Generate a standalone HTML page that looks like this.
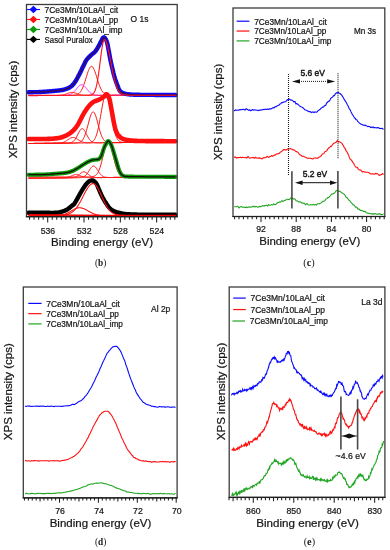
<!DOCTYPE html>
<html><head><meta charset="utf-8"><style>
html,body{margin:0;padding:0;background:#fff;}
svg{display:block;}
text{font-family:"Liberation Sans",Arial,sans-serif;fill:#161616;stroke:#161616;stroke-width:0.22px;}
</style></head><body>
<svg width="390" height="550" viewBox="0 0 390 550">
<rect width="390" height="550" fill="#fff"/>
<g>
<path d="M28.5 95.6 29.0 95.6 29.5 95.6 30.0 95.6 30.5 95.6 31.0 95.6 31.5 95.6 32.0 95.6 32.5 95.6 33.0 95.6 33.5 95.6 34.0 95.6 34.5 95.6 35.0 95.6 35.5 95.6 36.0 95.6 36.5 95.6 37.0 95.6 37.5 95.6 38.0 95.6 38.5 95.5 39.0 95.5 39.5 95.5 40.0 95.5 40.5 95.5 41.0 95.5 41.5 95.5 42.0 95.5 42.5 95.5 43.0 95.5 43.5 95.5 44.0 95.5 44.5 95.5 45.0 95.5 45.5 95.5 46.0 95.5 46.5 95.5 47.0 95.5 47.5 95.5 48.0 95.5 48.5 95.5 49.0 95.5 49.5 95.5 50.0 95.5 50.5 95.5 51.0 95.5 51.5 95.5 52.0 95.5 52.5 95.5 53.0 95.5 53.5 95.5 54.0 95.5 54.5 95.5 55.0 95.5 55.5 95.5 56.0 95.5 56.5 95.5 57.0 95.5 57.5 95.5 58.0 95.5 58.5 95.5 59.0 95.5 59.5 95.5 60.0 95.5 60.5 95.5 61.0 95.5 61.5 95.5 62.0 95.5 62.5 95.5 63.0 95.5 63.5 95.4 64.0 95.4 64.5 95.4 65.0 95.4 65.5 95.4 66.0 95.4 66.5 95.4 67.0 95.4 67.5 95.4 68.0 95.4 68.5 95.4 69.0 95.4 69.5 95.4 70.0 95.4 70.5 95.4 71.0 95.4 71.5 95.4 72.0 95.4 72.5 95.4 73.0 95.3 73.5 95.3 74.0 95.3 74.5 95.2 75.0 95.1 75.5 95.0 76.0 94.9 76.5 94.8 77.0 94.6 77.5 94.4 78.0 94.1 78.5 93.8 79.0 93.4 79.5 92.9 80.0 92.4 80.5 91.7 81.0 91.0 81.5 90.2 82.0 89.2 82.5 88.1 83.0 87.0 83.5 85.7 84.0 84.3 84.5 82.8 85.0 81.3 85.5 79.7 86.0 78.1 86.5 76.5 87.0 74.9 87.5 73.3 88.0 71.8 88.5 70.5 89.0 69.3 89.5 68.3 90.0 67.4 90.5 66.8 91.0 66.5 91.5 66.3 92.0 66.5 92.5 66.8 93.0 67.4 93.5 68.3 94.0 69.3 94.5 70.5 95.0 71.8 95.5 73.3 96.0 74.8 96.5 76.4 97.0 78.1 97.5 79.7 98.0 81.3 98.5 82.8 99.0 84.3 99.5 85.6 100.0 86.9 100.5 88.1 101.0 89.1 101.5 90.1 102.0 90.9 102.5 91.7 103.0 92.3 103.5 92.8 104.0 93.3 104.5 93.7 105.0 94.0 105.5 94.3 106.0 94.5 106.5 94.7 107.0 94.8 107.5 94.9 108.0 95.0 108.5 95.1 109.0 95.1 109.5 95.2 110.0 95.2 110.5 95.2 111.0 95.2 111.5 95.2 112.0 95.2 112.5 95.2 113.0 95.2 113.5 95.2 114.0 95.2 114.5 95.2 115.0 95.2 115.5 95.2 116.0 95.2 116.5 95.2 117.0 95.2 117.5 95.2 118.0 95.2 118.5 95.2 119.0 95.2 119.5 95.2 120.0 95.2 120.5 95.2 121.0 95.2 121.5 95.2 122.0 95.2 122.5 95.2 123.0 95.2 123.5 95.2 124.0 95.2 124.5 95.2 125.0 95.2 125.5 95.2 126.0 95.2 126.5 95.2 127.0 95.2 127.5 95.2 128.0 95.2 128.5 95.2 129.0 95.2 129.5 95.2 130.0 95.2 130.5 95.2 131.0 95.2 131.5 95.2 132.0 95.2 132.5 95.2 133.0 95.2 133.5 95.2 134.0 95.2 134.5 95.2 135.0 95.2 135.5 95.2 136.0 95.2 136.5 95.2 137.0 95.2 137.5 95.2 138.0 95.2 138.5 95.2 139.0 95.1 139.5 95.1 140.0 95.1 140.5 95.1 141.0 95.1 141.5 95.1 142.0 95.1 142.5 95.1 143.0 95.1 143.5 95.1 144.0 95.1 144.5 95.1 145.0 95.1 145.5 95.1 146.0 95.1 146.5 95.1 147.0 95.1 147.5 95.1 148.0 95.1 148.5 95.1 149.0 95.1 149.5 95.1 150.0 95.1 150.5 95.1 151.0 95.1 151.5 95.1 152.0 95.1 152.5 95.1 153.0 95.1 153.5 95.1 154.0 95.1 154.5 95.1 155.0 95.1 155.5 95.1 156.0 95.1 156.5 95.1 157.0 95.1 157.5 95.1 158.0 95.1 158.5 95.1 159.0 95.1 159.5 95.1 160.0 95.1 160.5 95.1 161.0 95.1 161.5 95.1 162.0 95.1 162.5 95.1 163.0 95.1 163.5 95.0 164.0 95.0 164.5 95.0 165.0 95.0 165.5 95.0 166.0 95.0 166.5 95.0 167.0 95.0 167.5 95.0 168.0 95.0 168.5 95.0 169.0 95.0 169.5 95.0 170.0 95.0 170.5 95.0 171.0 95.0 171.5 95.0 172.0 95.0 172.5 95.0 173.0 95.0 173.5 95.0 174.0 95.0 174.5 95.0 175.0 95.0 175.5 95.0 176.0 95.0" stroke="#ff1010" stroke-width="1.0" fill="none"/><path d="M28.5 95.6 29.0 95.6 29.5 95.6 30.0 95.6 30.5 95.6 31.0 95.6 31.5 95.6 32.0 95.6 32.5 95.6 33.0 95.6 33.5 95.6 34.0 95.6 34.5 95.6 35.0 95.6 35.5 95.6 36.0 95.6 36.5 95.6 37.0 95.6 37.5 95.6 38.0 95.6 38.5 95.5 39.0 95.5 39.5 95.5 40.0 95.5 40.5 95.5 41.0 95.5 41.5 95.5 42.0 95.5 42.5 95.5 43.0 95.5 43.5 95.5 44.0 95.5 44.5 95.5 45.0 95.5 45.5 95.5 46.0 95.5 46.5 95.5 47.0 95.5 47.5 95.5 48.0 95.5 48.5 95.5 49.0 95.5 49.5 95.5 50.0 95.5 50.5 95.5 51.0 95.5 51.5 95.5 52.0 95.5 52.5 95.5 53.0 95.5 53.5 95.5 54.0 95.5 54.5 95.5 55.0 95.5 55.5 95.5 56.0 95.5 56.5 95.5 57.0 95.5 57.5 95.5 58.0 95.5 58.5 95.5 59.0 95.5 59.5 95.5 60.0 95.5 60.5 95.5 61.0 95.5 61.5 95.5 62.0 95.4 62.5 95.4 63.0 95.4 63.5 95.4 64.0 95.4 64.5 95.4 65.0 95.4 65.5 95.4 66.0 95.3 66.5 95.3 67.0 95.2 67.5 95.2 68.0 95.1 68.5 95.0 69.0 94.9 69.5 94.7 70.0 94.5 70.5 94.3 71.0 94.1 71.5 93.8 72.0 93.5 72.5 93.1 73.0 92.7 73.5 92.3 74.0 91.8 74.5 91.2 75.0 90.7 75.5 90.1 76.0 89.5 76.5 88.8 77.0 88.2 77.5 87.6 78.0 87.1 78.5 86.5 79.0 86.0 79.5 85.6 80.0 85.3 80.5 85.0 81.0 84.9 81.5 84.8 82.0 84.8 82.5 84.9 83.0 85.1 83.5 85.5 84.0 85.8 84.5 86.3 85.0 86.8 85.5 87.4 86.0 87.9 86.5 88.6 87.0 89.2 87.5 89.8 88.0 90.4 88.5 91.0 89.0 91.5 89.5 92.0 90.0 92.5 90.5 92.9 91.0 93.3 91.5 93.6 92.0 93.9 92.5 94.2 93.0 94.4 93.5 94.6 94.0 94.7 94.5 94.8 95.0 94.9 95.5 95.0 96.0 95.1 96.5 95.1 97.0 95.2 97.5 95.2 98.0 95.2 98.5 95.3 99.0 95.3 99.5 95.3 100.0 95.3 100.5 95.3 101.0 95.3 101.5 95.3 102.0 95.3 102.5 95.3 103.0 95.3 103.5 95.3 104.0 95.3 104.5 95.3 105.0 95.3 105.5 95.3 106.0 95.3 106.5 95.3 107.0 95.3 107.5 95.3 108.0 95.3 108.5 95.3 109.0 95.3 109.5 95.3 110.0 95.3 110.5 95.3 111.0 95.3 111.5 95.3 112.0 95.3 112.5 95.3 113.0 95.3 113.5 95.2 114.0 95.2 114.5 95.2 115.0 95.2 115.5 95.2 116.0 95.2 116.5 95.2 117.0 95.2 117.5 95.2 118.0 95.2 118.5 95.2 119.0 95.2 119.5 95.2 120.0 95.2 120.5 95.2 121.0 95.2 121.5 95.2 122.0 95.2 122.5 95.2 123.0 95.2 123.5 95.2 124.0 95.2 124.5 95.2 125.0 95.2 125.5 95.2 126.0 95.2 126.5 95.2 127.0 95.2 127.5 95.2 128.0 95.2 128.5 95.2 129.0 95.2 129.5 95.2 130.0 95.2 130.5 95.2 131.0 95.2 131.5 95.2 132.0 95.2 132.5 95.2 133.0 95.2 133.5 95.2 134.0 95.2 134.5 95.2 135.0 95.2 135.5 95.2 136.0 95.2 136.5 95.2 137.0 95.2 137.5 95.2 138.0 95.2 138.5 95.2 139.0 95.1 139.5 95.1 140.0 95.1 140.5 95.1 141.0 95.1 141.5 95.1 142.0 95.1 142.5 95.1 143.0 95.1 143.5 95.1 144.0 95.1 144.5 95.1 145.0 95.1 145.5 95.1 146.0 95.1 146.5 95.1 147.0 95.1 147.5 95.1 148.0 95.1 148.5 95.1 149.0 95.1 149.5 95.1 150.0 95.1 150.5 95.1 151.0 95.1 151.5 95.1 152.0 95.1 152.5 95.1 153.0 95.1 153.5 95.1 154.0 95.1 154.5 95.1 155.0 95.1 155.5 95.1 156.0 95.1 156.5 95.1 157.0 95.1 157.5 95.1 158.0 95.1 158.5 95.1 159.0 95.1 159.5 95.1 160.0 95.1 160.5 95.1 161.0 95.1 161.5 95.1 162.0 95.1 162.5 95.1 163.0 95.1 163.5 95.0 164.0 95.0 164.5 95.0 165.0 95.0 165.5 95.0 166.0 95.0 166.5 95.0 167.0 95.0 167.5 95.0 168.0 95.0 168.5 95.0 169.0 95.0 169.5 95.0 170.0 95.0 170.5 95.0 171.0 95.0 171.5 95.0 172.0 95.0 172.5 95.0 173.0 95.0 173.5 95.0 174.0 95.0 174.5 95.0 175.0 95.0 175.5 95.0 176.0 95.0" stroke="#ff20ff" stroke-width="1.0" fill="none"/><path d="M28.5 95.6 29.0 95.6 29.5 95.6 30.0 95.6 30.5 95.6 31.0 95.6 31.5 95.6 32.0 95.6 32.5 95.6 33.0 95.6 33.5 95.6 34.0 95.6 34.5 95.6 35.0 95.6 35.5 95.6 36.0 95.6 36.5 95.6 37.0 95.6 37.5 95.6 38.0 95.6 38.5 95.5 39.0 95.5 39.5 95.5 40.0 95.5 40.5 95.5 41.0 95.5 41.5 95.5 42.0 95.5 42.5 95.5 43.0 95.5 43.5 95.5 44.0 95.5 44.5 95.5 45.0 95.5 45.5 95.5 46.0 95.5 46.5 95.5 47.0 95.5 47.5 95.5 48.0 95.5 48.5 95.5 49.0 95.5 49.5 95.5 50.0 95.5 50.5 95.5 51.0 95.5 51.5 95.5 52.0 95.5 52.5 95.5 53.0 95.5 53.5 95.5 54.0 95.5 54.5 95.5 55.0 95.5 55.5 95.5 56.0 95.5 56.5 95.5 57.0 95.4 57.5 95.4 58.0 95.4 58.5 95.4 59.0 95.4 59.5 95.3 60.0 95.3 60.5 95.2 61.0 95.2 61.5 95.1 62.0 95.0 62.5 95.0 63.0 94.9 63.5 94.7 64.0 94.6 64.5 94.5 65.0 94.3 65.5 94.2 66.0 94.0 66.5 93.8 67.0 93.6 67.5 93.4 68.0 93.3 68.5 93.1 69.0 92.9 69.5 92.8 70.0 92.7 70.5 92.6 71.0 92.5 71.5 92.4 72.0 92.4 72.5 92.4 73.0 92.5 73.5 92.5 74.0 92.6 74.5 92.8 75.0 92.9 75.5 93.1 76.0 93.2 76.5 93.4 77.0 93.6 77.5 93.8 78.0 93.9 78.5 94.1 79.0 94.3 79.5 94.4 80.0 94.5 80.5 94.7 81.0 94.8 81.5 94.9 82.0 95.0 82.5 95.0 83.0 95.1 83.5 95.2 84.0 95.2 84.5 95.2 85.0 95.3 85.5 95.3 86.0 95.3 86.5 95.3 87.0 95.3 87.5 95.3 88.0 95.3 88.5 95.3 89.0 95.3 89.5 95.3 90.0 95.3 90.5 95.3 91.0 95.3 91.5 95.3 92.0 95.3 92.5 95.3 93.0 95.3 93.5 95.3 94.0 95.3 94.5 95.3 95.0 95.3 95.5 95.3 96.0 95.3 96.5 95.3 97.0 95.3 97.5 95.3 98.0 95.3 98.5 95.3 99.0 95.3 99.5 95.3 100.0 95.3 100.5 95.3 101.0 95.3 101.5 95.3 102.0 95.3 102.5 95.3 103.0 95.3 103.5 95.3 104.0 95.3 104.5 95.3 105.0 95.3 105.5 95.3 106.0 95.3 106.5 95.3 107.0 95.3 107.5 95.3 108.0 95.3 108.5 95.3 109.0 95.3 109.5 95.3 110.0 95.3 110.5 95.3 111.0 95.3 111.5 95.3 112.0 95.3 112.5 95.3 113.0 95.3 113.5 95.2 114.0 95.2 114.5 95.2 115.0 95.2 115.5 95.2 116.0 95.2 116.5 95.2 117.0 95.2 117.5 95.2 118.0 95.2 118.5 95.2 119.0 95.2 119.5 95.2 120.0 95.2 120.5 95.2 121.0 95.2 121.5 95.2 122.0 95.2 122.5 95.2 123.0 95.2 123.5 95.2 124.0 95.2 124.5 95.2 125.0 95.2 125.5 95.2 126.0 95.2 126.5 95.2 127.0 95.2 127.5 95.2 128.0 95.2 128.5 95.2 129.0 95.2 129.5 95.2 130.0 95.2 130.5 95.2 131.0 95.2 131.5 95.2 132.0 95.2 132.5 95.2 133.0 95.2 133.5 95.2 134.0 95.2 134.5 95.2 135.0 95.2 135.5 95.2 136.0 95.2 136.5 95.2 137.0 95.2 137.5 95.2 138.0 95.2 138.5 95.2 139.0 95.1 139.5 95.1 140.0 95.1 140.5 95.1 141.0 95.1 141.5 95.1 142.0 95.1 142.5 95.1 143.0 95.1 143.5 95.1 144.0 95.1 144.5 95.1 145.0 95.1 145.5 95.1 146.0 95.1 146.5 95.1 147.0 95.1 147.5 95.1 148.0 95.1 148.5 95.1 149.0 95.1 149.5 95.1 150.0 95.1 150.5 95.1 151.0 95.1 151.5 95.1 152.0 95.1 152.5 95.1 153.0 95.1 153.5 95.1 154.0 95.1 154.5 95.1 155.0 95.1 155.5 95.1 156.0 95.1 156.5 95.1 157.0 95.1 157.5 95.1 158.0 95.1 158.5 95.1 159.0 95.1 159.5 95.1 160.0 95.1 160.5 95.1 161.0 95.1 161.5 95.1 162.0 95.1 162.5 95.1 163.0 95.1 163.5 95.0 164.0 95.0 164.5 95.0 165.0 95.0 165.5 95.0 166.0 95.0 166.5 95.0 167.0 95.0 167.5 95.0 168.0 95.0 168.5 95.0 169.0 95.0 169.5 95.0 170.0 95.0 170.5 95.0 171.0 95.0 171.5 95.0 172.0 95.0 172.5 95.0 173.0 95.0 173.5 95.0 174.0 95.0 174.5 95.0 175.0 95.0 175.5 95.0 176.0 95.0" stroke="#ff1010" stroke-width="1.0" fill="none"/><path d="M28.5 143.5 29.0 143.5 29.5 143.5 30.0 143.5 30.5 143.5 31.0 143.5 31.5 143.5 32.0 143.5 32.5 143.5 33.0 143.5 33.5 143.5 34.0 143.4 34.5 143.4 35.0 143.4 35.5 143.4 36.0 143.4 36.5 143.4 37.0 143.4 37.5 143.4 38.0 143.4 38.5 143.4 39.0 143.4 39.5 143.4 40.0 143.4 40.5 143.4 41.0 143.4 41.5 143.4 42.0 143.4 42.5 143.4 43.0 143.4 43.5 143.4 44.0 143.3 44.5 143.3 45.0 143.3 45.5 143.3 46.0 143.3 46.5 143.3 47.0 143.3 47.5 143.3 48.0 143.3 48.5 143.3 49.0 143.3 49.5 143.3 50.0 143.3 50.5 143.3 51.0 143.3 51.5 143.3 52.0 143.3 52.5 143.3 53.0 143.3 53.5 143.2 54.0 143.2 54.5 143.2 55.0 143.2 55.5 143.2 56.0 143.2 56.5 143.2 57.0 143.2 57.5 143.2 58.0 143.2 58.5 143.2 59.0 143.2 59.5 143.2 60.0 143.2 60.5 143.2 61.0 143.2 61.5 143.2 62.0 143.2 62.5 143.2 63.0 143.2 63.5 143.1 64.0 143.1 64.5 143.1 65.0 143.1 65.5 143.1 66.0 143.1 66.5 143.1 67.0 143.1 67.5 143.1 68.0 143.1 68.5 143.1 69.0 143.1 69.5 143.1 70.0 143.1 70.5 143.1 71.0 143.1 71.5 143.1 72.0 143.1 72.5 143.1 73.0 143.1 73.5 143.0 74.0 143.0 74.5 143.0 75.0 143.0 75.5 143.0 76.0 143.0 76.5 143.0 77.0 143.0 77.5 143.0 78.0 143.0 78.5 143.0 79.0 143.0 79.5 143.0 80.0 143.0 80.5 143.0 81.0 143.0 81.5 143.0 82.0 143.0 82.5 143.0 83.0 142.9 83.5 142.9 84.0 142.9 84.5 142.9 85.0 142.9 85.5 142.9 86.0 142.9 86.5 142.9 87.0 142.9 87.5 142.9 88.0 142.8 88.5 142.8 89.0 142.7 89.5 142.7 90.0 142.6 90.5 142.5 91.0 142.3 91.5 142.1 92.0 141.9 92.5 141.6 93.0 141.2 93.5 140.7 94.0 140.1 94.5 139.4 95.0 138.5 95.5 137.5 96.0 136.3 96.5 134.9 97.0 133.3 97.5 131.5 98.0 129.4 98.5 127.2 99.0 124.7 99.5 122.1 100.0 119.4 100.5 116.5 101.0 113.6 101.5 110.7 102.0 107.8 102.5 105.1 103.0 102.6 103.5 100.3 104.0 98.3 104.5 96.7 105.0 95.6 105.5 94.9 106.0 94.6 106.5 94.8 107.0 95.6 107.5 96.7 108.0 98.3 108.5 100.2 109.0 102.5 109.5 105.0 110.0 107.7 110.5 110.6 111.0 113.5 111.5 116.4 112.0 119.2 112.5 122.0 113.0 124.6 113.5 127.0 114.0 129.3 114.5 131.3 115.0 133.1 115.5 134.7 116.0 136.1 116.5 137.3 117.0 138.3 117.5 139.2 118.0 139.9 118.5 140.5 119.0 140.9 119.5 141.3 120.0 141.6 120.5 141.8 121.0 142.0 121.5 142.2 122.0 142.3 122.5 142.3 123.0 142.4 123.5 142.4 124.0 142.5 124.5 142.5 125.0 142.5 125.5 142.5 126.0 142.5 126.5 142.5 127.0 142.5 127.5 142.5 128.0 142.5 128.5 142.5 129.0 142.5 129.5 142.5 130.0 142.5 130.5 142.5 131.0 142.5 131.5 142.5 132.0 142.4 132.5 142.4 133.0 142.4 133.5 142.4 134.0 142.4 134.5 142.4 135.0 142.4 135.5 142.4 136.0 142.4 136.5 142.4 137.0 142.4 137.5 142.4 138.0 142.4 138.5 142.4 139.0 142.4 139.5 142.4 140.0 142.4 140.5 142.4 141.0 142.4 141.5 142.4 142.0 142.3 142.5 142.3 143.0 142.3 143.5 142.3 144.0 142.3 144.5 142.3 145.0 142.3 145.5 142.3 146.0 142.3 146.5 142.3 147.0 142.3 147.5 142.3 148.0 142.3 148.5 142.3 149.0 142.3 149.5 142.3 150.0 142.3 150.5 142.3 151.0 142.3 151.5 142.2 152.0 142.2 152.5 142.2 153.0 142.2 153.5 142.2 154.0 142.2 154.5 142.2 155.0 142.2 155.5 142.2 156.0 142.2 156.5 142.2 157.0 142.2 157.5 142.2 158.0 142.2 158.5 142.2 159.0 142.2 159.5 142.2 160.0 142.2 160.5 142.2 161.0 142.2 161.5 142.1 162.0 142.1 162.5 142.1 163.0 142.1 163.5 142.1 164.0 142.1 164.5 142.1 165.0 142.1 165.5 142.1 166.0 142.1 166.5 142.1 167.0 142.1 167.5 142.1 168.0 142.1 168.5 142.1 169.0 142.1 169.5 142.1 170.0 142.1 170.5 142.1 171.0 142.1 171.5 142.0 172.0 142.0 172.5 142.0 173.0 142.0 173.5 142.0 174.0 142.0 174.5 142.0 175.0 142.0 175.5 142.0 176.0 142.0" stroke="#ff1010" stroke-width="1.0" fill="none"/><path d="M28.5 143.5 29.0 143.5 29.5 143.5 30.0 143.5 30.5 143.5 31.0 143.5 31.5 143.5 32.0 143.5 32.5 143.5 33.0 143.5 33.5 143.5 34.0 143.4 34.5 143.4 35.0 143.4 35.5 143.4 36.0 143.4 36.5 143.4 37.0 143.4 37.5 143.4 38.0 143.4 38.5 143.4 39.0 143.4 39.5 143.4 40.0 143.4 40.5 143.4 41.0 143.4 41.5 143.4 42.0 143.4 42.5 143.4 43.0 143.4 43.5 143.4 44.0 143.3 44.5 143.3 45.0 143.3 45.5 143.3 46.0 143.3 46.5 143.3 47.0 143.3 47.5 143.3 48.0 143.3 48.5 143.3 49.0 143.3 49.5 143.3 50.0 143.3 50.5 143.3 51.0 143.3 51.5 143.3 52.0 143.3 52.5 143.3 53.0 143.3 53.5 143.2 54.0 143.2 54.5 143.2 55.0 143.2 55.5 143.2 56.0 143.2 56.5 143.2 57.0 143.2 57.5 143.2 58.0 143.2 58.5 143.2 59.0 143.2 59.5 143.2 60.0 143.2 60.5 143.2 61.0 143.2 61.5 143.2 62.0 143.2 62.5 143.2 63.0 143.2 63.5 143.1 64.0 143.1 64.5 143.1 65.0 143.1 65.5 143.1 66.0 143.1 66.5 143.1 67.0 143.1 67.5 143.1 68.0 143.1 68.5 143.1 69.0 143.1 69.5 143.1 70.0 143.1 70.5 143.1 71.0 143.1 71.5 143.1 72.0 143.1 72.5 143.1 73.0 143.0 73.5 143.0 74.0 143.0 74.5 143.0 75.0 143.0 75.5 143.0 76.0 142.9 76.5 142.9 77.0 142.9 77.5 142.8 78.0 142.7 78.5 142.6 79.0 142.5 79.5 142.3 80.0 142.1 80.5 141.8 81.0 141.5 81.5 141.1 82.0 140.6 82.5 140.0 83.0 139.2 83.5 138.4 84.0 137.4 84.5 136.3 85.0 135.0 85.5 133.6 86.0 132.1 86.5 130.4 87.0 128.6 87.5 126.8 88.0 124.9 88.5 122.9 89.0 121.0 89.5 119.2 90.0 117.5 90.5 115.9 91.0 114.6 91.5 113.5 92.0 112.6 92.5 112.1 93.0 111.9 93.5 111.9 94.0 112.4 94.5 113.1 95.0 114.1 95.5 115.3 96.0 116.8 96.5 118.4 97.0 120.2 97.5 122.1 98.0 124.0 98.5 125.9 99.0 127.8 99.5 129.6 100.0 131.3 100.5 132.9 101.0 134.3 101.5 135.6 102.0 136.8 102.5 137.8 103.0 138.7 103.5 139.5 104.0 140.1 104.5 140.7 105.0 141.1 105.5 141.5 106.0 141.7 106.5 142.0 107.0 142.1 107.5 142.3 108.0 142.4 108.5 142.5 109.0 142.5 109.5 142.6 110.0 142.6 110.5 142.6 111.0 142.6 111.5 142.6 112.0 142.6 112.5 142.6 113.0 142.6 113.5 142.6 114.0 142.6 114.5 142.6 115.0 142.6 115.5 142.6 116.0 142.6 116.5 142.6 117.0 142.6 117.5 142.6 118.0 142.6 118.5 142.6 119.0 142.6 119.5 142.6 120.0 142.6 120.5 142.6 121.0 142.6 121.5 142.6 122.0 142.6 122.5 142.5 123.0 142.5 123.5 142.5 124.0 142.5 124.5 142.5 125.0 142.5 125.5 142.5 126.0 142.5 126.5 142.5 127.0 142.5 127.5 142.5 128.0 142.5 128.5 142.5 129.0 142.5 129.5 142.5 130.0 142.5 130.5 142.5 131.0 142.5 131.5 142.5 132.0 142.4 132.5 142.4 133.0 142.4 133.5 142.4 134.0 142.4 134.5 142.4 135.0 142.4 135.5 142.4 136.0 142.4 136.5 142.4 137.0 142.4 137.5 142.4 138.0 142.4 138.5 142.4 139.0 142.4 139.5 142.4 140.0 142.4 140.5 142.4 141.0 142.4 141.5 142.4 142.0 142.3 142.5 142.3 143.0 142.3 143.5 142.3 144.0 142.3 144.5 142.3 145.0 142.3 145.5 142.3 146.0 142.3 146.5 142.3 147.0 142.3 147.5 142.3 148.0 142.3 148.5 142.3 149.0 142.3 149.5 142.3 150.0 142.3 150.5 142.3 151.0 142.3 151.5 142.2 152.0 142.2 152.5 142.2 153.0 142.2 153.5 142.2 154.0 142.2 154.5 142.2 155.0 142.2 155.5 142.2 156.0 142.2 156.5 142.2 157.0 142.2 157.5 142.2 158.0 142.2 158.5 142.2 159.0 142.2 159.5 142.2 160.0 142.2 160.5 142.2 161.0 142.2 161.5 142.1 162.0 142.1 162.5 142.1 163.0 142.1 163.5 142.1 164.0 142.1 164.5 142.1 165.0 142.1 165.5 142.1 166.0 142.1 166.5 142.1 167.0 142.1 167.5 142.1 168.0 142.1 168.5 142.1 169.0 142.1 169.5 142.1 170.0 142.1 170.5 142.1 171.0 142.1 171.5 142.0 172.0 142.0 172.5 142.0 173.0 142.0 173.5 142.0 174.0 142.0 174.5 142.0 175.0 142.0 175.5 142.0 176.0 142.0" stroke="#ff1010" stroke-width="1.0" fill="none"/><path d="M28.5 143.5 29.0 143.5 29.5 143.5 30.0 143.5 30.5 143.5 31.0 143.5 31.5 143.5 32.0 143.5 32.5 143.5 33.0 143.5 33.5 143.5 34.0 143.4 34.5 143.4 35.0 143.4 35.5 143.4 36.0 143.4 36.5 143.4 37.0 143.4 37.5 143.4 38.0 143.4 38.5 143.4 39.0 143.4 39.5 143.4 40.0 143.4 40.5 143.4 41.0 143.4 41.5 143.4 42.0 143.4 42.5 143.4 43.0 143.4 43.5 143.4 44.0 143.3 44.5 143.3 45.0 143.3 45.5 143.3 46.0 143.3 46.5 143.3 47.0 143.3 47.5 143.3 48.0 143.3 48.5 143.3 49.0 143.3 49.5 143.3 50.0 143.3 50.5 143.3 51.0 143.3 51.5 143.3 52.0 143.3 52.5 143.3 53.0 143.3 53.5 143.2 54.0 143.2 54.5 143.2 55.0 143.2 55.5 143.2 56.0 143.2 56.5 143.2 57.0 143.2 57.5 143.2 58.0 143.2 58.5 143.2 59.0 143.2 59.5 143.2 60.0 143.2 60.5 143.2 61.0 143.2 61.5 143.2 62.0 143.2 62.5 143.2 63.0 143.2 63.5 143.1 64.0 143.1 64.5 143.1 65.0 143.1 65.5 143.1 66.0 143.1 66.5 143.1 67.0 143.1 67.5 143.1 68.0 143.0 68.5 143.0 69.0 143.0 69.5 142.9 70.0 142.8 70.5 142.7 71.0 142.6 71.5 142.4 72.0 142.2 72.5 141.9 73.0 141.6 73.5 141.2 74.0 140.7 74.5 140.2 75.0 139.5 75.5 138.8 76.0 138.0 76.5 137.1 77.0 136.1 77.5 135.1 78.0 134.1 78.5 133.1 79.0 132.1 79.5 131.2 80.0 130.4 80.5 129.7 81.0 129.2 81.5 128.9 82.0 128.7 82.5 128.7 83.0 128.9 83.5 129.3 84.0 129.8 84.5 130.5 85.0 131.4 85.5 132.3 86.0 133.2 86.5 134.2 87.0 135.2 87.5 136.2 88.0 137.1 88.5 138.0 89.0 138.8 89.5 139.5 90.0 140.1 90.5 140.7 91.0 141.1 91.5 141.5 92.0 141.8 92.5 142.0 93.0 142.2 93.5 142.4 94.0 142.5 94.5 142.6 95.0 142.7 95.5 142.7 96.0 142.7 96.5 142.8 97.0 142.8 97.5 142.8 98.0 142.8 98.5 142.8 99.0 142.8 99.5 142.8 100.0 142.8 100.5 142.8 101.0 142.8 101.5 142.8 102.0 142.8 102.5 142.7 103.0 142.7 103.5 142.7 104.0 142.7 104.5 142.7 105.0 142.7 105.5 142.7 106.0 142.7 106.5 142.7 107.0 142.7 107.5 142.7 108.0 142.7 108.5 142.7 109.0 142.7 109.5 142.7 110.0 142.7 110.5 142.7 111.0 142.7 111.5 142.7 112.0 142.7 112.5 142.6 113.0 142.6 113.5 142.6 114.0 142.6 114.5 142.6 115.0 142.6 115.5 142.6 116.0 142.6 116.5 142.6 117.0 142.6 117.5 142.6 118.0 142.6 118.5 142.6 119.0 142.6 119.5 142.6 120.0 142.6 120.5 142.6 121.0 142.6 121.5 142.6 122.0 142.6 122.5 142.5 123.0 142.5 123.5 142.5 124.0 142.5 124.5 142.5 125.0 142.5 125.5 142.5 126.0 142.5 126.5 142.5 127.0 142.5 127.5 142.5 128.0 142.5 128.5 142.5 129.0 142.5 129.5 142.5 130.0 142.5 130.5 142.5 131.0 142.5 131.5 142.5 132.0 142.4 132.5 142.4 133.0 142.4 133.5 142.4 134.0 142.4 134.5 142.4 135.0 142.4 135.5 142.4 136.0 142.4 136.5 142.4 137.0 142.4 137.5 142.4 138.0 142.4 138.5 142.4 139.0 142.4 139.5 142.4 140.0 142.4 140.5 142.4 141.0 142.4 141.5 142.4 142.0 142.3 142.5 142.3 143.0 142.3 143.5 142.3 144.0 142.3 144.5 142.3 145.0 142.3 145.5 142.3 146.0 142.3 146.5 142.3 147.0 142.3 147.5 142.3 148.0 142.3 148.5 142.3 149.0 142.3 149.5 142.3 150.0 142.3 150.5 142.3 151.0 142.3 151.5 142.2 152.0 142.2 152.5 142.2 153.0 142.2 153.5 142.2 154.0 142.2 154.5 142.2 155.0 142.2 155.5 142.2 156.0 142.2 156.5 142.2 157.0 142.2 157.5 142.2 158.0 142.2 158.5 142.2 159.0 142.2 159.5 142.2 160.0 142.2 160.5 142.2 161.0 142.2 161.5 142.1 162.0 142.1 162.5 142.1 163.0 142.1 163.5 142.1 164.0 142.1 164.5 142.1 165.0 142.1 165.5 142.1 166.0 142.1 166.5 142.1 167.0 142.1 167.5 142.1 168.0 142.1 168.5 142.1 169.0 142.1 169.5 142.1 170.0 142.1 170.5 142.1 171.0 142.1 171.5 142.0 172.0 142.0 172.5 142.0 173.0 142.0 173.5 142.0 174.0 142.0 174.5 142.0 175.0 142.0 175.5 142.0 176.0 142.0" stroke="#ff1010" stroke-width="1.0" fill="none"/><path d="M28.5 143.5 29.0 143.5 29.5 143.5 30.0 143.5 30.5 143.5 31.0 143.5 31.5 143.5 32.0 143.5 32.5 143.5 33.0 143.5 33.5 143.5 34.0 143.4 34.5 143.4 35.0 143.4 35.5 143.4 36.0 143.4 36.5 143.4 37.0 143.4 37.5 143.4 38.0 143.4 38.5 143.4 39.0 143.4 39.5 143.4 40.0 143.4 40.5 143.4 41.0 143.4 41.5 143.4 42.0 143.4 42.5 143.4 43.0 143.4 43.5 143.4 44.0 143.3 44.5 143.3 45.0 143.3 45.5 143.3 46.0 143.3 46.5 143.3 47.0 143.3 47.5 143.3 48.0 143.3 48.5 143.3 49.0 143.3 49.5 143.3 50.0 143.3 50.5 143.3 51.0 143.3 51.5 143.3 52.0 143.3 52.5 143.3 53.0 143.3 53.5 143.2 54.0 143.2 54.5 143.2 55.0 143.2 55.5 143.2 56.0 143.2 56.5 143.2 57.0 143.2 57.5 143.2 58.0 143.1 58.5 143.1 59.0 143.1 59.5 143.0 60.0 143.0 60.5 142.9 61.0 142.9 61.5 142.8 62.0 142.7 62.5 142.5 63.0 142.4 63.5 142.2 64.0 142.0 64.5 141.8 65.0 141.6 65.5 141.3 66.0 141.0 66.5 140.7 67.0 140.4 67.5 140.0 68.0 139.7 68.5 139.4 69.0 139.0 69.5 138.7 70.0 138.4 70.5 138.1 71.0 137.9 71.5 137.7 72.0 137.6 72.5 137.5 73.0 137.5 73.5 137.5 74.0 137.6 74.5 137.7 75.0 137.9 75.5 138.1 76.0 138.3 76.5 138.6 77.0 138.9 77.5 139.3 78.0 139.6 78.5 139.9 79.0 140.3 79.5 140.6 80.0 140.9 80.5 141.2 81.0 141.4 81.5 141.6 82.0 141.9 82.5 142.0 83.0 142.2 83.5 142.3 84.0 142.4 84.5 142.5 85.0 142.6 85.5 142.7 86.0 142.7 86.5 142.8 87.0 142.8 87.5 142.8 88.0 142.8 88.5 142.8 89.0 142.9 89.5 142.9 90.0 142.9 90.5 142.9 91.0 142.9 91.5 142.9 92.0 142.9 92.5 142.8 93.0 142.8 93.5 142.8 94.0 142.8 94.5 142.8 95.0 142.8 95.5 142.8 96.0 142.8 96.5 142.8 97.0 142.8 97.5 142.8 98.0 142.8 98.5 142.8 99.0 142.8 99.5 142.8 100.0 142.8 100.5 142.8 101.0 142.8 101.5 142.8 102.0 142.8 102.5 142.7 103.0 142.7 103.5 142.7 104.0 142.7 104.5 142.7 105.0 142.7 105.5 142.7 106.0 142.7 106.5 142.7 107.0 142.7 107.5 142.7 108.0 142.7 108.5 142.7 109.0 142.7 109.5 142.7 110.0 142.7 110.5 142.7 111.0 142.7 111.5 142.7 112.0 142.7 112.5 142.6 113.0 142.6 113.5 142.6 114.0 142.6 114.5 142.6 115.0 142.6 115.5 142.6 116.0 142.6 116.5 142.6 117.0 142.6 117.5 142.6 118.0 142.6 118.5 142.6 119.0 142.6 119.5 142.6 120.0 142.6 120.5 142.6 121.0 142.6 121.5 142.6 122.0 142.6 122.5 142.5 123.0 142.5 123.5 142.5 124.0 142.5 124.5 142.5 125.0 142.5 125.5 142.5 126.0 142.5 126.5 142.5 127.0 142.5 127.5 142.5 128.0 142.5 128.5 142.5 129.0 142.5 129.5 142.5 130.0 142.5 130.5 142.5 131.0 142.5 131.5 142.5 132.0 142.4 132.5 142.4 133.0 142.4 133.5 142.4 134.0 142.4 134.5 142.4 135.0 142.4 135.5 142.4 136.0 142.4 136.5 142.4 137.0 142.4 137.5 142.4 138.0 142.4 138.5 142.4 139.0 142.4 139.5 142.4 140.0 142.4 140.5 142.4 141.0 142.4 141.5 142.4 142.0 142.3 142.5 142.3 143.0 142.3 143.5 142.3 144.0 142.3 144.5 142.3 145.0 142.3 145.5 142.3 146.0 142.3 146.5 142.3 147.0 142.3 147.5 142.3 148.0 142.3 148.5 142.3 149.0 142.3 149.5 142.3 150.0 142.3 150.5 142.3 151.0 142.3 151.5 142.2 152.0 142.2 152.5 142.2 153.0 142.2 153.5 142.2 154.0 142.2 154.5 142.2 155.0 142.2 155.5 142.2 156.0 142.2 156.5 142.2 157.0 142.2 157.5 142.2 158.0 142.2 158.5 142.2 159.0 142.2 159.5 142.2 160.0 142.2 160.5 142.2 161.0 142.2 161.5 142.1 162.0 142.1 162.5 142.1 163.0 142.1 163.5 142.1 164.0 142.1 164.5 142.1 165.0 142.1 165.5 142.1 166.0 142.1 166.5 142.1 167.0 142.1 167.5 142.1 168.0 142.1 168.5 142.1 169.0 142.1 169.5 142.1 170.0 142.1 170.5 142.1 171.0 142.1 171.5 142.0 172.0 142.0 172.5 142.0 173.0 142.0 173.5 142.0 174.0 142.0 174.5 142.0 175.0 142.0 175.5 142.0 176.0 142.0" stroke="#ff1010" stroke-width="1.0" fill="none"/><path d="M28.5 176.9 29.0 176.9 29.5 176.9 30.0 176.9 30.5 176.9 31.0 176.9 31.5 176.9 32.0 176.9 32.5 176.9 33.0 176.9 33.5 176.9 34.0 176.9 34.5 176.9 35.0 176.9 35.5 176.9 36.0 176.9 36.5 176.9 37.0 176.9 37.5 176.9 38.0 176.9 38.5 176.9 39.0 176.9 39.5 176.9 40.0 176.9 40.5 176.9 41.0 176.9 41.5 176.9 42.0 176.9 42.5 176.9 43.0 176.9 43.5 176.9 44.0 176.9 44.5 176.9 45.0 176.9 45.5 176.9 46.0 176.9 46.5 176.9 47.0 176.9 47.5 176.9 48.0 176.9 48.5 176.9 49.0 176.9 49.5 176.9 50.0 176.9 50.5 176.9 51.0 176.9 51.5 176.9 52.0 176.9 52.5 176.9 53.0 176.9 53.5 176.9 54.0 176.9 54.5 176.9 55.0 176.9 55.5 176.9 56.0 176.9 56.5 176.9 57.0 176.9 57.5 176.9 58.0 176.9 58.5 176.9 59.0 176.9 59.5 176.9 60.0 176.9 60.5 176.9 61.0 176.9 61.5 176.9 62.0 176.9 62.5 176.9 63.0 176.9 63.5 176.9 64.0 176.9 64.5 176.9 65.0 176.9 65.5 176.9 66.0 176.9 66.5 176.9 67.0 176.9 67.5 176.9 68.0 176.9 68.5 176.9 69.0 176.9 69.5 176.9 70.0 176.9 70.5 176.9 71.0 176.9 71.5 176.9 72.0 176.9 72.5 176.9 73.0 176.9 73.5 176.9 74.0 176.9 74.5 176.9 75.0 176.9 75.5 176.9 76.0 176.9 76.5 176.9 77.0 176.9 77.5 176.9 78.0 176.9 78.5 176.9 79.0 176.9 79.5 176.9 80.0 176.9 80.5 176.9 81.0 176.9 81.5 176.9 82.0 176.9 82.5 176.9 83.0 176.9 83.5 176.9 84.0 176.9 84.5 176.9 85.0 176.9 85.5 176.9 86.0 176.9 86.5 176.9 87.0 176.9 87.5 176.9 88.0 176.9 88.5 176.9 89.0 176.9 89.5 176.9 90.0 176.9 90.5 176.8 91.0 176.8 91.5 176.8 92.0 176.7 92.5 176.6 93.0 176.5 93.5 176.4 94.0 176.3 94.5 176.1 95.0 175.8 95.5 175.5 96.0 175.1 96.5 174.6 97.0 174.0 97.5 173.3 98.0 172.5 98.5 171.5 99.0 170.3 99.5 169.1 100.0 167.6 100.5 166.0 101.0 164.3 101.5 162.4 102.0 160.4 102.5 158.3 103.0 156.2 103.5 154.0 104.0 151.9 104.5 149.8 105.0 147.9 105.5 146.1 106.0 144.6 106.5 143.3 107.0 142.3 107.5 141.6 108.0 141.3 108.5 141.4 109.0 141.8 109.5 142.5 110.0 143.5 110.5 144.9 111.0 146.5 111.5 148.3 112.0 150.2 112.5 152.3 113.0 154.4 113.5 156.6 114.0 158.7 114.5 160.8 115.0 162.8 115.5 164.6 116.0 166.4 116.5 167.9 117.0 169.3 117.5 170.6 118.0 171.7 118.5 172.6 119.0 173.4 119.5 174.1 120.0 174.7 120.5 175.2 121.0 175.6 121.5 175.9 122.0 176.1 122.5 176.3 123.0 176.5 123.5 176.6 124.0 176.7 124.5 176.7 125.0 176.8 125.5 176.8 126.0 176.8 126.5 176.9 127.0 176.9 127.5 176.9 128.0 176.9 128.5 176.9 129.0 176.9 129.5 176.9 130.0 176.9 130.5 176.9 131.0 176.9 131.5 176.9 132.0 176.9 132.5 176.9 133.0 176.9 133.5 176.9 134.0 176.9 134.5 176.9 135.0 176.9 135.5 176.9 136.0 176.9 136.5 176.9 137.0 176.9 137.5 176.9 138.0 176.9 138.5 176.9 139.0 176.9 139.5 176.9 140.0 176.9 140.5 176.9 141.0 176.9 141.5 176.9 142.0 176.9 142.5 176.9 143.0 176.9 143.5 176.9 144.0 176.9 144.5 176.9 145.0 176.9 145.5 176.9 146.0 176.9 146.5 176.9 147.0 176.9 147.5 176.9 148.0 176.9 148.5 176.9 149.0 176.9 149.5 176.9 150.0 176.9 150.5 176.9 151.0 176.9 151.5 176.9 152.0 176.9 152.5 176.9 153.0 176.9 153.5 176.9 154.0 176.9 154.5 176.9 155.0 176.9 155.5 176.9 156.0 176.9 156.5 176.9 157.0 176.9 157.5 176.9 158.0 176.9 158.5 176.9 159.0 176.9 159.5 176.9 160.0 176.9 160.5 176.9 161.0 176.9 161.5 176.9 162.0 176.9 162.5 176.9 163.0 176.9 163.5 176.9 164.0 176.9 164.5 176.9 165.0 176.9 165.5 176.9 166.0 176.9 166.5 176.9 167.0 176.9 167.5 176.9 168.0 176.9 168.5 176.9 169.0 176.9 169.5 176.9 170.0 176.9 170.5 176.9 171.0 176.9 171.5 176.9 172.0 176.9 172.5 176.9 173.0 176.9 173.5 176.9 174.0 176.9 174.5 176.9 175.0 176.9 175.5 176.9 176.0 176.9" stroke="#ff1010" stroke-width="1.0" fill="none"/><path d="M28.5 178.2 29.0 178.2 29.5 178.2 30.0 178.2 30.5 178.2 31.0 178.2 31.5 178.2 32.0 178.2 32.5 178.2 33.0 178.2 33.5 178.2 34.0 178.1 34.5 178.1 35.0 178.1 35.5 178.1 36.0 178.1 36.5 178.1 37.0 178.1 37.5 178.1 38.0 178.1 38.5 178.1 39.0 178.1 39.5 178.1 40.0 178.1 40.5 178.1 41.0 178.1 41.5 178.1 42.0 178.1 42.5 178.1 43.0 178.1 43.5 178.1 44.0 178.1 44.5 178.1 45.0 178.1 45.5 178.0 46.0 178.0 46.5 178.0 47.0 178.0 47.5 178.0 48.0 178.0 48.5 178.0 49.0 178.0 49.5 178.0 50.0 178.0 50.5 178.0 51.0 178.0 51.5 178.0 52.0 178.0 52.5 178.0 53.0 178.0 53.5 178.0 54.0 178.0 54.5 178.0 55.0 178.0 55.5 178.0 56.0 178.0 56.5 178.0 57.0 177.9 57.5 177.9 58.0 177.9 58.5 177.9 59.0 177.9 59.5 177.9 60.0 177.9 60.5 177.9 61.0 177.9 61.5 177.9 62.0 177.9 62.5 177.9 63.0 177.9 63.5 177.9 64.0 177.9 64.5 177.9 65.0 177.9 65.5 177.9 66.0 177.9 66.5 177.9 67.0 177.9 67.5 177.9 68.0 177.9 68.5 177.8 69.0 177.8 69.5 177.8 70.0 177.8 70.5 177.8 71.0 177.8 71.5 177.8 72.0 177.8 72.5 177.8 73.0 177.8 73.5 177.8 74.0 177.8 74.5 177.8 75.0 177.8 75.5 177.8 76.0 177.8 76.5 177.8 77.0 177.8 77.5 177.8 78.0 177.7 78.5 177.7 79.0 177.7 79.5 177.7 80.0 177.6 80.5 177.6 81.0 177.5 81.5 177.5 82.0 177.3 82.5 177.2 83.0 177.0 83.5 176.8 84.0 176.6 84.5 176.3 85.0 175.9 85.5 175.5 86.0 175.0 86.5 174.4 87.0 173.8 87.5 173.1 88.0 172.4 88.5 171.6 89.0 170.8 89.5 170.0 90.0 169.2 90.5 168.5 91.0 167.8 91.5 167.2 92.0 166.7 92.5 166.3 93.0 166.1 93.5 166.0 94.0 166.1 94.5 166.3 95.0 166.7 95.5 167.1 96.0 167.7 96.5 168.4 97.0 169.1 97.5 169.9 98.0 170.7 98.5 171.5 99.0 172.3 99.5 173.0 100.0 173.7 100.5 174.3 101.0 174.8 101.5 175.3 102.0 175.8 102.5 176.1 103.0 176.4 103.5 176.7 104.0 176.9 104.5 177.0 105.0 177.1 105.5 177.2 106.0 177.3 106.5 177.4 107.0 177.4 107.5 177.4 108.0 177.4 108.5 177.5 109.0 177.5 109.5 177.5 110.0 177.5 110.5 177.5 111.0 177.5 111.5 177.5 112.0 177.5 112.5 177.5 113.0 177.5 113.5 177.4 114.0 177.4 114.5 177.4 115.0 177.4 115.5 177.4 116.0 177.4 116.5 177.4 117.0 177.4 117.5 177.4 118.0 177.4 118.5 177.4 119.0 177.4 119.5 177.4 120.0 177.4 120.5 177.4 121.0 177.4 121.5 177.4 122.0 177.4 122.5 177.4 123.0 177.4 123.5 177.4 124.0 177.4 124.5 177.4 125.0 177.3 125.5 177.3 126.0 177.3 126.5 177.3 127.0 177.3 127.5 177.3 128.0 177.3 128.5 177.3 129.0 177.3 129.5 177.3 130.0 177.3 130.5 177.3 131.0 177.3 131.5 177.3 132.0 177.3 132.5 177.3 133.0 177.3 133.5 177.3 134.0 177.3 134.5 177.3 135.0 177.3 135.5 177.3 136.0 177.3 136.5 177.2 137.0 177.2 137.5 177.2 138.0 177.2 138.5 177.2 139.0 177.2 139.5 177.2 140.0 177.2 140.5 177.2 141.0 177.2 141.5 177.2 142.0 177.2 142.5 177.2 143.0 177.2 143.5 177.2 144.0 177.2 144.5 177.2 145.0 177.2 145.5 177.2 146.0 177.2 146.5 177.2 147.0 177.2 147.5 177.2 148.0 177.1 148.5 177.1 149.0 177.1 149.5 177.1 150.0 177.1 150.5 177.1 151.0 177.1 151.5 177.1 152.0 177.1 152.5 177.1 153.0 177.1 153.5 177.1 154.0 177.1 154.5 177.1 155.0 177.1 155.5 177.1 156.0 177.1 156.5 177.1 157.0 177.1 157.5 177.1 158.0 177.1 158.5 177.1 159.0 177.0 159.5 177.0 160.0 177.0 160.5 177.0 161.0 177.0 161.5 177.0 162.0 177.0 162.5 177.0 163.0 177.0 163.5 177.0 164.0 177.0 164.5 177.0 165.0 177.0 165.5 177.0 166.0 177.0 166.5 177.0 167.0 177.0 167.5 177.0 168.0 177.0 168.5 177.0 169.0 177.0 169.5 177.0 170.0 177.0 170.5 176.9 171.0 176.9 171.5 176.9 172.0 176.9 172.5 176.9 173.0 176.9 173.5 176.9 174.0 176.9 174.5 176.9 175.0 176.9 175.5 176.9 176.0 176.9" stroke="#ff1010" stroke-width="1.0" fill="none"/><path d="M28.5 178.2 29.0 178.2 29.5 178.2 30.0 178.2 30.5 178.2 31.0 178.2 31.5 178.2 32.0 178.2 32.5 178.2 33.0 178.2 33.5 178.2 34.0 178.1 34.5 178.1 35.0 178.1 35.5 178.1 36.0 178.1 36.5 178.1 37.0 178.1 37.5 178.1 38.0 178.1 38.5 178.1 39.0 178.1 39.5 178.1 40.0 178.1 40.5 178.1 41.0 178.1 41.5 178.1 42.0 178.1 42.5 178.1 43.0 178.1 43.5 178.1 44.0 178.1 44.5 178.1 45.0 178.1 45.5 178.0 46.0 178.0 46.5 178.0 47.0 178.0 47.5 178.0 48.0 178.0 48.5 178.0 49.0 178.0 49.5 178.0 50.0 178.0 50.5 178.0 51.0 178.0 51.5 178.0 52.0 178.0 52.5 178.0 53.0 178.0 53.5 178.0 54.0 178.0 54.5 178.0 55.0 178.0 55.5 178.0 56.0 178.0 56.5 178.0 57.0 177.9 57.5 177.9 58.0 177.9 58.5 177.9 59.0 177.9 59.5 177.9 60.0 177.9 60.5 177.9 61.0 177.9 61.5 177.9 62.0 177.9 62.5 177.9 63.0 177.9 63.5 177.9 64.0 177.9 64.5 177.9 65.0 177.9 65.5 177.9 66.0 177.9 66.5 177.9 67.0 177.9 67.5 177.9 68.0 177.8 68.5 177.8 69.0 177.8 69.5 177.8 70.0 177.8 70.5 177.8 71.0 177.8 71.5 177.7 72.0 177.7 72.5 177.7 73.0 177.6 73.5 177.5 74.0 177.4 74.5 177.3 75.0 177.1 75.5 176.9 76.0 176.7 76.5 176.5 77.0 176.2 77.5 175.9 78.0 175.5 78.5 175.1 79.0 174.7 79.5 174.3 80.0 173.8 80.5 173.4 81.0 173.0 81.5 172.7 82.0 172.3 82.5 172.1 83.0 171.9 83.5 171.8 84.0 171.8 84.5 171.9 85.0 172.0 85.5 172.3 86.0 172.5 86.5 172.9 87.0 173.3 87.5 173.7 88.0 174.1 88.5 174.5 89.0 174.9 89.5 175.3 90.0 175.7 90.5 176.0 91.0 176.3 91.5 176.5 92.0 176.8 92.5 176.9 93.0 177.1 93.5 177.2 94.0 177.3 94.5 177.4 95.0 177.4 95.5 177.5 96.0 177.5 96.5 177.5 97.0 177.6 97.5 177.6 98.0 177.6 98.5 177.6 99.0 177.6 99.5 177.6 100.0 177.6 100.5 177.6 101.0 177.6 101.5 177.6 102.0 177.6 102.5 177.5 103.0 177.5 103.5 177.5 104.0 177.5 104.5 177.5 105.0 177.5 105.5 177.5 106.0 177.5 106.5 177.5 107.0 177.5 107.5 177.5 108.0 177.5 108.5 177.5 109.0 177.5 109.5 177.5 110.0 177.5 110.5 177.5 111.0 177.5 111.5 177.5 112.0 177.5 112.5 177.5 113.0 177.5 113.5 177.4 114.0 177.4 114.5 177.4 115.0 177.4 115.5 177.4 116.0 177.4 116.5 177.4 117.0 177.4 117.5 177.4 118.0 177.4 118.5 177.4 119.0 177.4 119.5 177.4 120.0 177.4 120.5 177.4 121.0 177.4 121.5 177.4 122.0 177.4 122.5 177.4 123.0 177.4 123.5 177.4 124.0 177.4 124.5 177.4 125.0 177.3 125.5 177.3 126.0 177.3 126.5 177.3 127.0 177.3 127.5 177.3 128.0 177.3 128.5 177.3 129.0 177.3 129.5 177.3 130.0 177.3 130.5 177.3 131.0 177.3 131.5 177.3 132.0 177.3 132.5 177.3 133.0 177.3 133.5 177.3 134.0 177.3 134.5 177.3 135.0 177.3 135.5 177.3 136.0 177.3 136.5 177.2 137.0 177.2 137.5 177.2 138.0 177.2 138.5 177.2 139.0 177.2 139.5 177.2 140.0 177.2 140.5 177.2 141.0 177.2 141.5 177.2 142.0 177.2 142.5 177.2 143.0 177.2 143.5 177.2 144.0 177.2 144.5 177.2 145.0 177.2 145.5 177.2 146.0 177.2 146.5 177.2 147.0 177.2 147.5 177.2 148.0 177.1 148.5 177.1 149.0 177.1 149.5 177.1 150.0 177.1 150.5 177.1 151.0 177.1 151.5 177.1 152.0 177.1 152.5 177.1 153.0 177.1 153.5 177.1 154.0 177.1 154.5 177.1 155.0 177.1 155.5 177.1 156.0 177.1 156.5 177.1 157.0 177.1 157.5 177.1 158.0 177.1 158.5 177.1 159.0 177.0 159.5 177.0 160.0 177.0 160.5 177.0 161.0 177.0 161.5 177.0 162.0 177.0 162.5 177.0 163.0 177.0 163.5 177.0 164.0 177.0 164.5 177.0 165.0 177.0 165.5 177.0 166.0 177.0 166.5 177.0 167.0 177.0 167.5 177.0 168.0 177.0 168.5 177.0 169.0 177.0 169.5 177.0 170.0 177.0 170.5 176.9 171.0 176.9 171.5 176.9 172.0 176.9 172.5 176.9 173.0 176.9 173.5 176.9 174.0 176.9 174.5 176.9 175.0 176.9 175.5 176.9 176.0 176.9" stroke="#ff1010" stroke-width="1.0" fill="none"/><path d="M28.5 178.2 29.0 178.2 29.5 178.2 30.0 178.2 30.5 178.2 31.0 178.2 31.5 178.2 32.0 178.2 32.5 178.2 33.0 178.2 33.5 178.2 34.0 178.1 34.5 178.1 35.0 178.1 35.5 178.1 36.0 178.1 36.5 178.1 37.0 178.1 37.5 178.1 38.0 178.1 38.5 178.1 39.0 178.1 39.5 178.1 40.0 178.1 40.5 178.1 41.0 178.1 41.5 178.1 42.0 178.1 42.5 178.1 43.0 178.1 43.5 178.1 44.0 178.1 44.5 178.1 45.0 178.1 45.5 178.0 46.0 178.0 46.5 178.0 47.0 178.0 47.5 178.0 48.0 178.0 48.5 178.0 49.0 178.0 49.5 178.0 50.0 178.0 50.5 178.0 51.0 178.0 51.5 178.0 52.0 178.0 52.5 178.0 53.0 178.0 53.5 178.0 54.0 178.0 54.5 178.0 55.0 178.0 55.5 178.0 56.0 178.0 56.5 178.0 57.0 177.9 57.5 177.9 58.0 177.9 58.5 177.9 59.0 177.9 59.5 177.9 60.0 177.9 60.5 177.9 61.0 177.9 61.5 177.9 62.0 177.9 62.5 177.9 63.0 177.8 63.5 177.8 64.0 177.8 64.5 177.8 65.0 177.7 65.5 177.7 66.0 177.6 66.5 177.5 67.0 177.4 67.5 177.3 68.0 177.2 68.5 177.0 69.0 176.9 69.5 176.7 70.0 176.5 70.5 176.3 71.0 176.1 71.5 175.9 72.0 175.7 72.5 175.4 73.0 175.2 73.5 175.1 74.0 174.9 74.5 174.8 75.0 174.7 75.5 174.6 76.0 174.6 76.5 174.6 77.0 174.6 77.5 174.7 78.0 174.9 78.5 175.0 79.0 175.2 79.5 175.4 80.0 175.6 80.5 175.8 81.0 176.0 81.5 176.2 82.0 176.4 82.5 176.6 83.0 176.8 83.5 176.9 84.0 177.1 84.5 177.2 85.0 177.3 85.5 177.4 86.0 177.4 86.5 177.5 87.0 177.5 87.5 177.6 88.0 177.6 88.5 177.6 89.0 177.6 89.5 177.6 90.0 177.6 90.5 177.6 91.0 177.6 91.5 177.6 92.0 177.6 92.5 177.6 93.0 177.6 93.5 177.6 94.0 177.6 94.5 177.6 95.0 177.6 95.5 177.6 96.0 177.6 96.5 177.6 97.0 177.6 97.5 177.6 98.0 177.6 98.5 177.6 99.0 177.6 99.5 177.6 100.0 177.6 100.5 177.6 101.0 177.6 101.5 177.6 102.0 177.6 102.5 177.5 103.0 177.5 103.5 177.5 104.0 177.5 104.5 177.5 105.0 177.5 105.5 177.5 106.0 177.5 106.5 177.5 107.0 177.5 107.5 177.5 108.0 177.5 108.5 177.5 109.0 177.5 109.5 177.5 110.0 177.5 110.5 177.5 111.0 177.5 111.5 177.5 112.0 177.5 112.5 177.5 113.0 177.5 113.5 177.5 114.0 177.4 114.5 177.4 115.0 177.4 115.5 177.4 116.0 177.4 116.5 177.4 117.0 177.4 117.5 177.4 118.0 177.4 118.5 177.4 119.0 177.4 119.5 177.4 120.0 177.4 120.5 177.4 121.0 177.4 121.5 177.4 122.0 177.4 122.5 177.4 123.0 177.4 123.5 177.4 124.0 177.4 124.5 177.4 125.0 177.3 125.5 177.3 126.0 177.3 126.5 177.3 127.0 177.3 127.5 177.3 128.0 177.3 128.5 177.3 129.0 177.3 129.5 177.3 130.0 177.3 130.5 177.3 131.0 177.3 131.5 177.3 132.0 177.3 132.5 177.3 133.0 177.3 133.5 177.3 134.0 177.3 134.5 177.3 135.0 177.3 135.5 177.3 136.0 177.3 136.5 177.2 137.0 177.2 137.5 177.2 138.0 177.2 138.5 177.2 139.0 177.2 139.5 177.2 140.0 177.2 140.5 177.2 141.0 177.2 141.5 177.2 142.0 177.2 142.5 177.2 143.0 177.2 143.5 177.2 144.0 177.2 144.5 177.2 145.0 177.2 145.5 177.2 146.0 177.2 146.5 177.2 147.0 177.2 147.5 177.2 148.0 177.1 148.5 177.1 149.0 177.1 149.5 177.1 150.0 177.1 150.5 177.1 151.0 177.1 151.5 177.1 152.0 177.1 152.5 177.1 153.0 177.1 153.5 177.1 154.0 177.1 154.5 177.1 155.0 177.1 155.5 177.1 156.0 177.1 156.5 177.1 157.0 177.1 157.5 177.1 158.0 177.1 158.5 177.1 159.0 177.0 159.5 177.0 160.0 177.0 160.5 177.0 161.0 177.0 161.5 177.0 162.0 177.0 162.5 177.0 163.0 177.0 163.5 177.0 164.0 177.0 164.5 177.0 165.0 177.0 165.5 177.0 166.0 177.0 166.5 177.0 167.0 177.0 167.5 177.0 168.0 177.0 168.5 177.0 169.0 177.0 169.5 177.0 170.0 177.0 170.5 176.9 171.0 176.9 171.5 176.9 172.0 176.9 172.5 176.9 173.0 176.9 173.5 176.9 174.0 176.9 174.5 176.9 175.0 176.9 175.5 176.9 176.0 176.9" stroke="#ff1010" stroke-width="1.0" fill="none"/>
<path d="M28.5 92.2 29.0 92.2 29.5 92.2 30.0 92.2 30.5 92.2 31.0 92.2 31.5 92.2 32.0 92.2 32.5 92.2 33.0 92.2 33.5 92.1 34.0 92.1 34.5 92.1 35.0 92.1 35.5 92.1 36.0 92.1 36.5 92.1 37.0 92.1 37.5 92.1 38.0 92.1 38.5 92.1 39.0 92.0 39.5 92.0 40.0 92.0 40.5 92.0 41.0 92.0 41.5 91.9 42.0 91.9 42.5 91.9 43.0 91.8 43.5 91.8 44.0 91.8 44.5 91.7 45.0 91.7 45.5 91.7 46.0 91.6 46.5 91.6 47.0 91.5 47.5 91.5 48.0 91.5 48.5 91.4 49.0 91.4 49.5 91.3 50.0 91.3 50.5 91.3 51.0 91.2 51.5 91.2 52.0 91.1 52.5 91.1 53.0 91.0 53.5 91.0 54.0 91.0 54.5 90.9 55.0 90.9 55.5 90.8 56.0 90.8 56.5 90.7 57.0 90.7 57.5 90.6 58.0 90.6 58.5 90.5 59.0 90.5 59.5 90.4 60.0 90.3 60.5 90.3 61.0 90.2 61.5 90.1 62.0 90.0 62.5 90.0 63.0 89.9 63.5 89.8 64.0 89.6 64.5 89.5 65.0 89.3 65.5 89.2 66.0 89.0 66.5 88.8 67.0 88.6 67.5 88.5 68.0 88.3 68.5 88.0 69.0 87.8 69.5 87.5 70.0 87.2 70.5 86.9 71.0 86.5 71.5 86.1 72.0 85.6 72.5 85.1 73.0 84.6 73.5 84.0 74.0 83.4 74.5 82.7 75.0 82.0 75.5 81.3 76.0 80.5 76.5 79.6 77.0 78.7 77.5 77.8 78.0 76.8 78.5 75.9 79.0 74.9 79.5 73.9 80.0 72.9 80.5 71.9 81.0 70.9 81.5 69.9 82.0 68.8 82.5 67.8 83.0 66.7 83.5 65.7 84.0 64.7 84.5 63.7 85.0 62.6 85.5 61.6 86.0 60.7 86.5 59.9 87.0 59.3 87.5 58.7 88.0 58.1 88.5 57.6 89.0 57.1 89.5 56.6 90.0 56.1 90.5 55.6 91.0 55.1 91.5 54.7 92.0 54.3 92.5 53.9 93.0 53.5 93.5 53.1 94.0 52.7 94.5 52.2 95.0 51.7 95.5 51.1 96.0 50.4 96.5 49.7 97.0 49.0 97.5 48.2 98.0 47.3 98.5 46.4 99.0 45.4 99.5 44.4 100.0 43.4 100.5 42.4 101.0 41.5 101.5 40.6 102.0 39.6 102.5 38.6 103.0 37.8 103.5 37.4 104.0 37.3 104.5 37.6 105.0 38.1 105.5 38.9 106.0 39.7 106.5 40.8 107.0 42.2 107.5 44.2 108.0 46.8 108.5 49.5 109.0 52.2 109.5 55.0 110.0 57.8 110.5 60.3 111.0 62.6 111.5 64.8 112.0 66.9 112.5 69.0 113.0 71.1 113.5 73.2 114.0 75.1 114.5 76.9 115.0 78.6 115.5 80.1 116.0 81.6 116.5 82.9 117.0 84.3 117.5 85.6 118.0 86.9 118.5 88.1 119.0 89.2 119.5 90.2 120.0 91.0 120.5 91.6 121.0 92.0 121.5 92.3 122.0 92.6 122.5 92.8 123.0 93.0 123.5 93.2 124.0 93.4 124.5 93.5 125.0 93.7 125.5 93.8 126.0 93.9 126.5 94.0 127.0 94.1 127.5 94.2 128.0 94.3 128.5 94.3 129.0 94.4 129.5 94.4 130.0 94.5 130.5 94.5 131.0 94.5 131.5 94.6 132.0 94.6 132.5 94.6 133.0 94.6 133.5 94.7 134.0 94.7 134.5 94.7 135.0 94.7 135.5 94.7 136.0 94.8 136.5 94.8 137.0 94.8 137.5 94.8 138.0 94.8 138.5 94.8 139.0 94.8 139.5 94.8 140.0 94.8 140.5 94.9 141.0 94.9 141.5 94.9 142.0 94.9 142.5 94.9 143.0 94.9 143.5 94.9 144.0 94.9 144.5 94.9 145.0 94.9 145.5 94.9 146.0 94.9 146.5 94.9 147.0 94.9 147.5 94.9 148.0 94.9 148.5 94.9 149.0 94.9 149.5 94.9 150.0 94.9 150.5 94.9 151.0 94.9 151.5 94.9 152.0 94.9 152.5 94.9 153.0 94.9 153.5 94.9 154.0 94.9 154.5 94.9 155.0 95.0 155.5 95.0 156.0 95.0 156.5 95.0 157.0 95.0 157.5 95.0 158.0 95.0 158.5 95.0 159.0 95.0 159.5 95.0 160.0 95.0 160.5 95.0 161.0 95.0 161.5 95.0 162.0 95.0 162.5 95.0 163.0 95.0 163.5 95.0 164.0 95.0 164.5 95.0 165.0 95.0 165.5 95.0 166.0 95.0 166.5 95.0 167.0 95.0 167.5 95.0 168.0 95.0 168.5 95.0 169.0 95.0 169.5 95.0 170.0 95.0 170.5 95.0 171.0 95.0 171.5 95.0 172.0 95.0 172.5 95.0 173.0 95.0 173.5 95.0 174.0 95.0 174.5 95.0 175.0 95.0 175.5 95.0" stroke="#0a0aff" stroke-width="4.4" fill="none" stroke-linejoin="round" stroke-linecap="round"/>
<path d="M28.5 92.2 29.0 92.2 29.5 92.2 30.0 92.2 30.5 92.2 31.0 92.2 31.5 92.2 32.0 92.2 32.5 92.2 33.0 92.2 33.5 92.1 34.0 92.1 34.5 92.1 35.0 92.1 35.5 92.1 36.0 92.1 36.5 92.1 37.0 92.1 37.5 92.1 38.0 92.1 38.5 92.1 39.0 92.0 39.5 92.0 40.0 92.0 40.5 92.0 41.0 92.0 41.5 91.9 42.0 91.9 42.5 91.9 43.0 91.8 43.5 91.8 44.0 91.8 44.5 91.7 45.0 91.7 45.5 91.7 46.0 91.6 46.5 91.6 47.0 91.5 47.5 91.5 48.0 91.5 48.5 91.4 49.0 91.4 49.5 91.3 50.0 91.3 50.5 91.3 51.0 91.2 51.5 91.2 52.0 91.1 52.5 91.1 53.0 91.0 53.5 91.0 54.0 91.0 54.5 90.9 55.0 90.9 55.5 90.8 56.0 90.8 56.5 90.7 57.0 90.7 57.5 90.6 58.0 90.6 58.5 90.5 59.0 90.5 59.5 90.4 60.0 90.3 60.5 90.3 61.0 90.2 61.5 90.1 62.0 90.0 62.5 90.0 63.0 89.9 63.5 89.8 64.0 89.6 64.5 89.5 65.0 89.3 65.5 89.2 66.0 89.0 66.5 88.8 67.0 88.6 67.5 88.5 68.0 88.3 68.5 88.0 69.0 87.8 69.5 87.5 70.0 87.2 70.5 86.9 71.0 86.5 71.5 86.1 72.0 85.6 72.5 85.1 73.0 84.6 73.5 84.0 74.0 83.4 74.5 82.7 75.0 82.0 75.5 81.3 76.0 80.5 76.5 79.6 77.0 78.7 77.5 77.8 78.0 76.8 78.5 75.9 79.0 74.9 79.5 73.9 80.0 72.9 80.5 71.9 81.0 70.9 81.5 69.9 82.0 68.8 82.5 67.8 83.0 66.7 83.5 65.7 84.0 64.7 84.5 63.7 85.0 62.6 85.5 61.6 86.0 60.7 86.5 59.9 87.0 59.3 87.5 58.7 88.0 58.1 88.5 57.6 89.0 57.1 89.5 56.6 90.0 56.1 90.5 55.6 91.0 55.1 91.5 54.7 92.0 54.3 92.5 53.9 93.0 53.5 93.5 53.1 94.0 52.7 94.5 52.2 95.0 51.7 95.5 51.1 96.0 50.4 96.5 49.7 97.0 49.0 97.5 48.2 98.0 47.3 98.5 46.4 99.0 45.4 99.5 44.4 100.0 43.4 100.5 42.4 101.0 41.5 101.5 40.6 102.0 39.6 102.5 38.6 103.0 37.8 103.5 37.4 104.0 37.3 104.5 37.6 105.0 38.1 105.5 38.9 106.0 39.7 106.5 40.8 107.0 42.2 107.5 44.2 108.0 46.8 108.5 49.5 109.0 52.2 109.5 55.0 110.0 57.8 110.5 60.3 111.0 62.6 111.5 64.8 112.0 66.9 112.5 69.0 113.0 71.1 113.5 73.2 114.0 75.1 114.5 76.9 115.0 78.6 115.5 80.1 116.0 81.6 116.5 82.9 117.0 84.3 117.5 85.6 118.0 86.9 118.5 88.1 119.0 89.2 119.5 90.2 120.0 91.0 120.5 91.6 121.0 92.0 121.5 92.3 122.0 92.6 122.5 92.8 123.0 93.0 123.5 93.2 124.0 93.4 124.5 93.5 125.0 93.7 125.5 93.8 126.0 93.9 126.5 94.0 127.0 94.1 127.5 94.2 128.0 94.3 128.5 94.3 129.0 94.4 129.5 94.4 130.0 94.5 130.5 94.5 131.0 94.5 131.5 94.6 132.0 94.6 132.5 94.6 133.0 94.6 133.5 94.7 134.0 94.7 134.5 94.7 135.0 94.7 135.5 94.7 136.0 94.8 136.5 94.8 137.0 94.8 137.5 94.8 138.0 94.8 138.5 94.8 139.0 94.8 139.5 94.8 140.0 94.8 140.5 94.9 141.0 94.9 141.5 94.9 142.0 94.9 142.5 94.9 143.0 94.9 143.5 94.9 144.0 94.9 144.5 94.9 145.0 94.9 145.5 94.9 146.0 94.9 146.5 94.9 147.0 94.9 147.5 94.9 148.0 94.9 148.5 94.9 149.0 94.9 149.5 94.9 150.0 94.9 150.5 94.9 151.0 94.9 151.5 94.9 152.0 94.9 152.5 94.9 153.0 94.9 153.5 94.9 154.0 94.9 154.5 94.9 155.0 95.0 155.5 95.0 156.0 95.0 156.5 95.0 157.0 95.0 157.5 95.0 158.0 95.0 158.5 95.0 159.0 95.0 159.5 95.0 160.0 95.0 160.5 95.0 161.0 95.0 161.5 95.0 162.0 95.0 162.5 95.0 163.0 95.0 163.5 95.0 164.0 95.0 164.5 95.0 165.0 95.0 165.5 95.0 166.0 95.0 166.5 95.0 167.0 95.0 167.5 95.0 168.0 95.0 168.5 95.0 169.0 95.0 169.5 95.0 170.0 95.0 170.5 95.0 171.0 95.0 171.5 95.0 172.0 95.0 172.5 95.0 173.0 95.0 173.5 95.0 174.0 95.0 174.5 95.0 175.0 95.0 175.5 95.0" stroke="#3a0858" stroke-width="1.5" fill="none"/>
<path d="M28.5 95.2 29.0 95.2 29.5 95.2 30.0 95.2 30.5 95.2 31.0 95.2 31.5 95.2 32.0 95.2 32.5 95.2 33.0 95.2 33.5 95.2 34.0 95.2 34.5 95.2 35.0 95.2 35.5 95.2 36.0 95.2 36.5 95.2 37.0 95.2 37.5 95.2 38.0 95.2 38.5 95.2 39.0 95.2 39.5 95.2 40.0 95.2 40.5 95.2 41.0 95.2 41.5 95.2 42.0 95.2 42.5 95.2 43.0 95.2 43.5 95.2 44.0 95.2 44.5 95.2 45.0 95.2 45.5 95.2 46.0 95.2 46.5 95.2 47.0 95.2 47.5 95.2 48.0 95.2 48.5 95.2 49.0 95.2 49.5 95.2 50.0 95.2 50.5 95.2 51.0 95.2 51.5 95.2 52.0 95.2 52.5 95.2 53.0 95.2 53.5 95.2 54.0 95.2 54.5 95.2 55.0 95.2 55.5 95.2 56.0 95.2 56.5 95.2 57.0 95.2 57.5 95.2 58.0 95.2 58.5 95.2 59.0 95.2 59.5 95.2 60.0 95.2 60.5 95.2 61.0 95.2 61.5 95.2 62.0 95.2 62.5 95.2 63.0 95.2 63.5 95.2 64.0 95.2 64.5 95.2 65.0 95.2 65.5 95.2 66.0 95.2 66.5 95.2 67.0 95.2 67.5 95.2 68.0 95.2 68.5 95.2 69.0 95.2 69.5 95.2 70.0 95.2 70.5 95.2 71.0 95.2 71.5 95.2 72.0 95.2 72.5 95.2 73.0 95.2 73.5 95.2 74.0 95.2 74.5 95.2 75.0 95.2 75.5 95.2 76.0 95.2 76.5 95.2 77.0 95.2 77.5 95.2 78.0 95.2 78.5 95.2 79.0 95.2 79.5 95.2 80.0 95.2 80.5 95.2 81.0 95.2 81.5 95.2 82.0 95.2 82.5 95.2 83.0 95.2 83.5 95.2 84.0 95.2 84.5 95.2 85.0 95.2 85.5 95.2 86.0 95.2 86.5 95.2 87.0 95.2 87.5 95.2 88.0 95.2 88.5 95.2 89.0 95.1 89.5 95.1 90.0 95.0 90.5 95.0 91.0 94.9 91.5 94.7 92.0 94.5 92.5 94.2 93.0 93.8 93.5 93.3 94.0 92.6 94.5 91.7 95.0 90.7 95.5 89.3 96.0 87.7 96.5 85.7 97.0 83.4 97.5 80.8 98.0 77.8 98.5 74.5 99.0 70.9 99.5 67.0 100.0 63.1 100.5 59.1 101.0 55.1 101.5 51.4 102.0 48.0 102.5 45.0 103.0 42.6 103.5 40.9 104.0 39.9 104.5 39.6 105.0 39.9 105.5 40.4 106.0 41.4 106.5 42.6 107.0 44.1 107.5 45.9 108.0 48.0 108.5 50.2 109.0 52.6 109.5 55.1 110.0 57.7 110.5 60.4 111.0 63.1 111.5 65.7 112.0 68.3 112.5 70.9 113.0 73.3 113.5 75.6 114.0 77.8 114.5 79.8 115.0 81.7 115.5 83.4 116.0 85.0 116.5 86.4 117.0 87.7 117.5 88.8 118.0 89.8 118.5 90.7 119.0 91.4 119.5 92.1 120.0 92.6 120.5 93.1 121.0 93.5 121.5 93.8 122.0 94.1 122.5 94.3 123.0 94.5 123.5 94.6 124.0 94.8 124.5 94.9 125.0 94.9 125.5 95.0 126.0 95.0 126.5 95.1 127.0 95.1 127.5 95.1 128.0 95.2 128.5 95.2 129.0 95.2 129.5 95.2 130.0 95.2 130.5 95.2 131.0 95.2 131.5 95.2 132.0 95.2 132.5 95.2 133.0 95.2 133.5 95.2 134.0 95.2 134.5 95.2 135.0 95.2 135.5 95.2 136.0 95.2 136.5 95.2 137.0 95.2 137.5 95.2 138.0 95.2 138.5 95.2 139.0 95.2 139.5 95.2 140.0 95.2 140.5 95.2 141.0 95.2 141.5 95.2 142.0 95.2 142.5 95.2 143.0 95.2 143.5 95.2 144.0 95.2 144.5 95.2 145.0 95.2 145.5 95.2 146.0 95.2 146.5 95.2 147.0 95.2 147.5 95.2 148.0 95.2 148.5 95.2 149.0 95.2 149.5 95.2 150.0 95.2 150.5 95.2 151.0 95.2 151.5 95.2 152.0 95.2 152.5 95.2 153.0 95.2 153.5 95.2 154.0 95.2 154.5 95.2 155.0 95.2 155.5 95.2 156.0 95.2 156.5 95.2 157.0 95.2 157.5 95.2 158.0 95.2 158.5 95.2 159.0 95.2 159.5 95.2 160.0 95.2 160.5 95.2 161.0 95.2 161.5 95.2 162.0 95.2 162.5 95.2 163.0 95.2 163.5 95.2 164.0 95.2 164.5 95.2 165.0 95.2 165.5 95.2 166.0 95.2 166.5 95.2 167.0 95.2 167.5 95.2 168.0 95.2 168.5 95.2 169.0 95.2 169.5 95.2 170.0 95.2 170.5 95.2 171.0 95.2 171.5 95.2 172.0 95.2 172.5 95.2 173.0 95.2 173.5 95.2 174.0 95.2 174.5 95.2 175.0 95.2 175.5 95.2 176.0 95.2" stroke="#ff1010" stroke-width="1.1" fill="none"/>
<path d="M28.5 139.0 29.0 139.0 29.5 139.0 30.0 139.0 30.5 139.0 31.0 139.0 31.5 139.0 32.0 139.0 32.5 139.0 33.0 139.0 33.5 139.0 34.0 139.0 34.5 139.0 35.0 139.0 35.5 139.0 36.0 139.0 36.5 139.0 37.0 139.0 37.5 139.0 38.0 139.0 38.5 139.0 39.0 139.0 39.5 139.0 40.0 139.0 40.5 139.0 41.0 139.0 41.5 139.0 42.0 139.0 42.5 139.0 43.0 139.0 43.5 139.0 44.0 139.0 44.5 139.0 45.0 139.0 45.5 139.0 46.0 139.0 46.5 139.0 47.0 139.0 47.5 138.9 48.0 138.9 48.5 138.9 49.0 138.9 49.5 138.9 50.0 138.8 50.5 138.8 51.0 138.8 51.5 138.8 52.0 138.7 52.5 138.7 53.0 138.7 53.5 138.6 54.0 138.6 54.5 138.5 55.0 138.5 55.5 138.4 56.0 138.4 56.5 138.3 57.0 138.3 57.5 138.2 58.0 138.1 58.5 138.0 59.0 138.0 59.5 137.8 60.0 137.7 60.5 137.6 61.0 137.5 61.5 137.3 62.0 137.2 62.5 137.0 63.0 136.8 63.5 136.6 64.0 136.4 64.5 136.2 65.0 136.0 65.5 135.8 66.0 135.6 66.5 135.3 67.0 135.1 67.5 134.8 68.0 134.5 68.5 134.2 69.0 133.9 69.5 133.6 70.0 133.2 70.5 132.8 71.0 132.5 71.5 132.1 72.0 131.6 72.5 131.2 73.0 130.7 73.5 130.3 74.0 129.7 74.5 129.2 75.0 128.6 75.5 128.0 76.0 127.4 76.5 126.7 77.0 126.0 77.5 125.2 78.0 124.4 78.5 123.5 79.0 122.6 79.5 121.7 80.0 120.7 80.5 119.8 81.0 118.8 81.5 117.7 82.0 116.7 82.5 115.8 83.0 114.9 83.5 114.0 84.0 113.1 84.5 112.3 85.0 111.5 85.5 110.8 86.0 110.0 86.5 109.3 87.0 108.5 87.5 107.9 88.0 107.2 88.5 106.6 89.0 106.0 89.5 105.4 90.0 104.9 90.5 104.4 91.0 103.9 91.5 103.4 92.0 103.0 92.5 102.6 93.0 102.2 93.5 101.9 94.0 101.6 94.5 101.4 95.0 101.2 95.5 101.0 96.0 100.8 96.5 100.6 97.0 100.4 97.5 100.3 98.0 100.1 98.5 99.9 99.0 99.7 99.5 99.4 100.0 99.2 100.5 98.9 101.0 98.6 101.5 98.3 102.0 98.0 102.5 97.6 103.0 97.3 103.5 96.9 104.0 96.6 104.5 96.2 105.0 95.7 105.5 95.1 106.0 94.3 106.5 94.2 107.0 94.5 107.5 95.0 108.0 95.7 108.5 96.6 109.0 97.7 109.5 99.2 110.0 101.4 110.5 104.2 111.0 106.9 111.5 109.6 112.0 112.4 112.5 115.2 113.0 117.9 113.5 120.6 114.0 123.1 114.5 125.5 115.0 127.6 115.5 129.4 116.0 130.9 116.5 132.1 117.0 133.2 117.5 134.1 118.0 134.9 118.5 135.5 119.0 136.0 119.5 136.5 120.0 137.0 120.5 137.4 121.0 137.8 121.5 138.1 122.0 138.4 122.5 138.6 123.0 138.9 123.5 139.1 124.0 139.3 124.5 139.4 125.0 139.6 125.5 139.7 126.0 139.8 126.5 139.9 127.0 140.0 127.5 140.1 128.0 140.1 128.5 140.2 129.0 140.3 129.5 140.3 130.0 140.4 130.5 140.5 131.0 140.5 131.5 140.6 132.0 140.6 132.5 140.6 133.0 140.7 133.5 140.8 134.0 140.8 134.5 140.9 135.0 140.9 135.5 140.9 136.0 140.9 136.5 140.9 137.0 140.9 137.5 141.0 138.0 141.0 138.5 141.0 139.0 141.0 139.5 141.0 140.0 141.0 140.5 141.0 141.0 141.0 141.5 141.0 142.0 141.0 142.5 141.0 143.0 141.0 143.5 141.0 144.0 141.0 144.5 141.0 145.0 141.0 145.5 141.1 146.0 141.1 146.5 141.1 147.0 141.1 147.5 141.1 148.0 141.1 148.5 141.1 149.0 141.1 149.5 141.1 150.0 141.1 150.5 141.1 151.0 141.1 151.5 141.1 152.0 141.1 152.5 141.1 153.0 141.1 153.5 141.1 154.0 141.1 154.5 141.1 155.0 141.1 155.5 141.1 156.0 141.1 156.5 141.1 157.0 141.1 157.5 141.1 158.0 141.1 158.5 141.1 159.0 141.1 159.5 141.1 160.0 141.1 160.5 141.1 161.0 141.1 161.5 141.1 162.0 141.1 162.5 141.1 163.0 141.1 163.5 141.1 164.0 141.1 164.5 141.2 165.0 141.2 165.5 141.2 166.0 141.2 166.5 141.2 167.0 141.2 167.5 141.2 168.0 141.2 168.5 141.2 169.0 141.2 169.5 141.2 170.0 141.2 170.5 141.2 171.0 141.2 171.5 141.2 172.0 141.2 172.5 141.2 173.0 141.2 173.5 141.2 174.0 141.2 174.5 141.2 175.0 141.2 175.5 141.2" stroke="#ff1010" stroke-width="4.6" fill="none" stroke-linejoin="round" stroke-linecap="round"/>
<path d="M28.5 174.7 29.0 174.7 29.5 174.7 30.0 174.7 30.5 174.7 31.0 174.7 31.5 174.7 32.0 174.7 32.5 174.7 33.0 174.7 33.5 174.7 34.0 174.7 34.5 174.7 35.0 174.7 35.5 174.6 36.0 174.6 36.5 174.6 37.0 174.6 37.5 174.6 38.0 174.6 38.5 174.6 39.0 174.6 39.5 174.6 40.0 174.6 40.5 174.6 41.0 174.6 41.5 174.6 42.0 174.6 42.5 174.6 43.0 174.6 43.5 174.5 44.0 174.5 44.5 174.5 45.0 174.5 45.5 174.5 46.0 174.5 46.5 174.4 47.0 174.4 47.5 174.4 48.0 174.4 48.5 174.3 49.0 174.3 49.5 174.3 50.0 174.2 50.5 174.2 51.0 174.1 51.5 174.1 52.0 174.1 52.5 174.0 53.0 174.0 53.5 173.9 54.0 173.9 54.5 173.8 55.0 173.8 55.5 173.8 56.0 173.7 56.5 173.7 57.0 173.7 57.5 173.6 58.0 173.6 58.5 173.5 59.0 173.5 59.5 173.5 60.0 173.4 60.5 173.4 61.0 173.4 61.5 173.3 62.0 173.3 62.5 173.2 63.0 173.2 63.5 173.1 64.0 173.1 64.5 173.0 65.0 172.9 65.5 172.9 66.0 172.8 66.5 172.7 67.0 172.6 67.5 172.5 68.0 172.4 68.5 172.3 69.0 172.2 69.5 172.0 70.0 171.9 70.5 171.7 71.0 171.5 71.5 171.4 72.0 171.2 72.5 171.0 73.0 170.8 73.5 170.5 74.0 170.3 74.5 170.0 75.0 169.7 75.5 169.4 76.0 169.2 76.5 168.9 77.0 168.6 77.5 168.3 78.0 168.0 78.5 167.7 79.0 167.4 79.5 167.0 80.0 166.7 80.5 166.4 81.0 166.1 81.5 165.8 82.0 165.4 82.5 165.1 83.0 164.8 83.5 164.5 84.0 164.2 84.5 163.8 85.0 163.5 85.5 163.2 86.0 162.9 86.5 162.6 87.0 162.4 87.5 162.1 88.0 161.8 88.5 161.6 89.0 161.3 89.5 161.1 90.0 160.9 90.5 160.7 91.0 160.5 91.5 160.3 92.0 160.2 92.5 160.0 93.0 159.9 93.5 159.9 94.0 159.8 94.5 159.8 95.0 159.7 95.5 159.7 96.0 159.7 96.5 159.6 97.0 159.5 97.5 159.5 98.0 159.4 98.5 159.3 99.0 159.0 99.5 158.6 100.0 158.0 100.5 157.4 101.0 156.5 101.5 155.4 102.0 154.1 102.5 152.6 103.0 151.0 103.5 149.4 104.0 148.0 104.5 146.8 105.0 145.7 105.5 144.8 106.0 143.9 106.5 143.0 107.0 142.2 107.5 141.4 108.0 141.0 108.5 141.0 109.0 141.4 109.5 141.9 110.0 142.6 110.5 143.5 111.0 144.4 111.5 145.5 112.0 146.8 112.5 148.4 113.0 150.0 113.5 151.7 114.0 153.3 114.5 154.9 115.0 156.6 115.5 158.3 116.0 160.0 116.5 161.7 117.0 163.5 117.5 165.2 118.0 166.8 118.5 168.3 119.0 169.7 119.5 171.0 120.0 172.1 120.5 173.1 121.0 173.9 121.5 174.6 122.0 175.1 122.5 175.4 123.0 175.6 123.5 175.8 124.0 176.3 124.5 176.4 125.0 176.4 125.5 176.5 126.0 176.5 126.5 176.5 127.0 176.5 127.5 176.5 128.0 176.6 128.5 176.6 129.0 176.6 129.5 176.6 130.0 176.6 130.5 176.6 131.0 176.6 131.5 176.6 132.0 176.6 132.5 176.6 133.0 176.6 133.5 176.7 134.0 176.7 134.5 176.7 135.0 176.7 135.5 176.7 136.0 176.7 136.5 176.7 137.0 176.7 137.5 176.7 138.0 176.7 138.5 176.7 139.0 176.7 139.5 176.7 140.0 176.7 140.5 176.7 141.0 176.7 141.5 176.7 142.0 176.7 142.5 176.7 143.0 176.7 143.5 176.7 144.0 176.7 144.5 176.7 145.0 176.8 145.5 176.8 146.0 176.8 146.5 176.8 147.0 176.8 147.5 176.8 148.0 176.8 148.5 176.8 149.0 176.8 149.5 176.8 150.0 176.8 150.5 176.8 151.0 176.8 151.5 176.8 152.0 176.8 152.5 176.8 153.0 176.8 153.5 176.8 154.0 176.8 154.5 176.8 155.0 176.8 155.5 176.8 156.0 176.8 156.5 176.8 157.0 176.8 157.5 176.8 158.0 176.8 158.5 176.8 159.0 176.8 159.5 176.8 160.0 176.8 160.5 176.8 161.0 176.8 161.5 176.8 162.0 176.8 162.5 176.8 163.0 176.8 163.5 176.8 164.0 176.8 164.5 176.8 165.0 176.9 165.5 176.9 166.0 176.9 166.5 176.9 167.0 176.9 167.5 176.9 168.0 176.9 168.5 176.9 169.0 176.9 169.5 176.9 170.0 176.9 170.5 176.9 171.0 176.9 171.5 176.9 172.0 176.9 172.5 176.9 173.0 176.9 173.5 176.9 174.0 176.9 174.5 176.9 175.0 176.9 175.5 176.9" stroke="#0a9a0a" stroke-width="4.1" fill="none" stroke-linejoin="round" stroke-linecap="round"/>
<path d="M28.5 174.7 29.0 174.7 29.5 174.7 30.0 174.7 30.5 174.7 31.0 174.7 31.5 174.7 32.0 174.7 32.5 174.7 33.0 174.7 33.5 174.7 34.0 174.7 34.5 174.7 35.0 174.7 35.5 174.6 36.0 174.6 36.5 174.6 37.0 174.6 37.5 174.6 38.0 174.6 38.5 174.6 39.0 174.6 39.5 174.6 40.0 174.6 40.5 174.6 41.0 174.6 41.5 174.6 42.0 174.6 42.5 174.6 43.0 174.6 43.5 174.5 44.0 174.5 44.5 174.5 45.0 174.5 45.5 174.5 46.0 174.5 46.5 174.4 47.0 174.4 47.5 174.4 48.0 174.4 48.5 174.3 49.0 174.3 49.5 174.3 50.0 174.2 50.5 174.2 51.0 174.1 51.5 174.1 52.0 174.1 52.5 174.0 53.0 174.0 53.5 173.9 54.0 173.9 54.5 173.8 55.0 173.8 55.5 173.8 56.0 173.7 56.5 173.7 57.0 173.7 57.5 173.6 58.0 173.6 58.5 173.5 59.0 173.5 59.5 173.5 60.0 173.4 60.5 173.4 61.0 173.4 61.5 173.3 62.0 173.3 62.5 173.2 63.0 173.2 63.5 173.1 64.0 173.1 64.5 173.0 65.0 172.9 65.5 172.9 66.0 172.8 66.5 172.7 67.0 172.6 67.5 172.5 68.0 172.4 68.5 172.3 69.0 172.2 69.5 172.0 70.0 171.9 70.5 171.7 71.0 171.5 71.5 171.4 72.0 171.2 72.5 171.0 73.0 170.8 73.5 170.5 74.0 170.3 74.5 170.0 75.0 169.7 75.5 169.4 76.0 169.2 76.5 168.9 77.0 168.6 77.5 168.3 78.0 168.0 78.5 167.7 79.0 167.4 79.5 167.0 80.0 166.7 80.5 166.4 81.0 166.1 81.5 165.8 82.0 165.4 82.5 165.1 83.0 164.8 83.5 164.5 84.0 164.2 84.5 163.8 85.0 163.5 85.5 163.2 86.0 162.9 86.5 162.6 87.0 162.4 87.5 162.1 88.0 161.8 88.5 161.6 89.0 161.3 89.5 161.1 90.0 160.9 90.5 160.7 91.0 160.5 91.5 160.3 92.0 160.2 92.5 160.0 93.0 159.9 93.5 159.9 94.0 159.8 94.5 159.8 95.0 159.7 95.5 159.7 96.0 159.7 96.5 159.6 97.0 159.5 97.5 159.5 98.0 159.4 98.5 159.3 99.0 159.0 99.5 158.6 100.0 158.0 100.5 157.4 101.0 156.5 101.5 155.4 102.0 154.1 102.5 152.6 103.0 151.0 103.5 149.4 104.0 148.0 104.5 146.8 105.0 145.7 105.5 144.8 106.0 143.9 106.5 143.0 107.0 142.2 107.5 141.4 108.0 141.0 108.5 141.0 109.0 141.4 109.5 141.9 110.0 142.6 110.5 143.5 111.0 144.4 111.5 145.5 112.0 146.8 112.5 148.4 113.0 150.0 113.5 151.7 114.0 153.3 114.5 154.9 115.0 156.6 115.5 158.3 116.0 160.0 116.5 161.7 117.0 163.5 117.5 165.2 118.0 166.8 118.5 168.3 119.0 169.7 119.5 171.0 120.0 172.1 120.5 173.1 121.0 173.9 121.5 174.6 122.0 175.1 122.5 175.4 123.0 175.6 123.5 175.8 124.0 176.3 124.5 176.4 125.0 176.4 125.5 176.5 126.0 176.5 126.5 176.5 127.0 176.5 127.5 176.5 128.0 176.6 128.5 176.6 129.0 176.6 129.5 176.6 130.0 176.6 130.5 176.6 131.0 176.6 131.5 176.6 132.0 176.6 132.5 176.6 133.0 176.6 133.5 176.7 134.0 176.7 134.5 176.7 135.0 176.7 135.5 176.7 136.0 176.7 136.5 176.7 137.0 176.7 137.5 176.7 138.0 176.7 138.5 176.7 139.0 176.7 139.5 176.7 140.0 176.7 140.5 176.7 141.0 176.7 141.5 176.7 142.0 176.7 142.5 176.7 143.0 176.7 143.5 176.7 144.0 176.7 144.5 176.7 145.0 176.8 145.5 176.8 146.0 176.8 146.5 176.8 147.0 176.8 147.5 176.8 148.0 176.8 148.5 176.8 149.0 176.8 149.5 176.8 150.0 176.8 150.5 176.8 151.0 176.8 151.5 176.8 152.0 176.8 152.5 176.8 153.0 176.8 153.5 176.8 154.0 176.8 154.5 176.8 155.0 176.8 155.5 176.8 156.0 176.8 156.5 176.8 157.0 176.8 157.5 176.8 158.0 176.8 158.5 176.8 159.0 176.8 159.5 176.8 160.0 176.8 160.5 176.8 161.0 176.8 161.5 176.8 162.0 176.8 162.5 176.8 163.0 176.8 163.5 176.8 164.0 176.8 164.5 176.8 165.0 176.9 165.5 176.9 166.0 176.9 166.5 176.9 167.0 176.9 167.5 176.9 168.0 176.9 168.5 176.9 169.0 176.9 169.5 176.9 170.0 176.9 170.5 176.9 171.0 176.9 171.5 176.9 172.0 176.9 172.5 176.9 173.0 176.9 173.5 176.9 174.0 176.9 174.5 176.9 175.0 176.9 175.5 176.9" stroke="#151005" stroke-width="1.3" fill="none"/>
<path d="M28.5 212.8 29.0 212.8 29.5 212.8 30.0 212.8 30.5 212.8 31.0 212.8 31.5 212.8 32.0 212.8 32.5 212.8 33.0 212.8 33.5 212.8 34.0 212.8 34.5 212.8 35.0 212.8 35.5 212.8 36.0 212.8 36.5 212.8 37.0 212.8 37.5 212.8 38.0 212.8 38.5 212.8 39.0 212.8 39.5 212.8 40.0 212.8 40.5 212.8 41.0 212.8 41.5 212.8 42.0 212.8 42.5 212.8 43.0 212.8 43.5 212.8 44.0 212.8 44.5 212.8 45.0 212.8 45.5 212.8 46.0 212.8 46.5 212.8 47.0 212.8 47.5 212.8 48.0 212.8 48.5 212.8 49.0 212.8 49.5 212.8 50.0 212.8 50.5 212.9 51.0 212.9 51.5 212.9 52.0 212.9 52.5 212.9 53.0 212.9 53.5 212.9 54.0 212.8 54.5 212.8 55.0 212.8 55.5 212.8 56.0 212.7 56.5 212.7 57.0 212.7 57.5 212.6 58.0 212.6 58.5 212.5 59.0 212.4 59.5 212.3 60.0 212.2 60.5 212.1 61.0 212.0 61.5 211.8 62.0 211.7 62.5 211.5 63.0 211.3 63.5 211.2 64.0 211.0 64.5 210.8 65.0 210.6 65.5 210.3 66.0 210.1 66.5 209.8 67.0 209.6 67.5 209.3 68.0 208.9 68.5 208.6 69.0 208.2 69.5 207.8 70.0 207.4 70.5 206.9 71.0 206.5 71.5 206.1 72.0 205.6 72.5 205.2 73.0 204.9 73.5 204.7 74.0 204.2 74.5 203.5 75.0 202.7 75.5 201.9 76.0 201.0 76.5 200.2 77.0 199.3 77.5 198.4 78.0 197.4 78.5 196.5 79.0 195.6 79.5 194.7 80.0 193.8 80.5 192.9 81.0 192.1 81.5 191.2 82.0 190.4 82.5 189.5 83.0 188.7 83.5 188.0 84.0 187.2 84.5 186.5 85.0 185.7 85.5 185.0 86.0 184.4 86.5 183.8 87.0 183.3 87.5 182.8 88.0 182.3 88.5 181.9 89.0 181.4 89.5 181.0 90.0 180.8 90.5 180.7 91.0 180.6 91.5 180.5 92.0 180.4 92.5 180.4 93.0 180.6 93.5 180.8 94.0 181.1 94.5 181.5 95.0 182.0 95.5 182.5 96.0 183.1 96.5 183.9 97.0 184.8 97.5 185.9 98.0 187.1 98.5 188.3 99.0 189.5 99.5 190.7 100.0 191.9 100.5 193.0 101.0 194.1 101.5 195.2 102.0 196.2 102.5 197.2 103.0 198.1 103.5 199.0 104.0 199.9 104.5 200.8 105.0 201.6 105.5 202.4 106.0 203.1 106.5 203.9 107.0 204.7 107.5 205.4 108.0 206.1 108.5 206.8 109.0 207.4 109.5 208.0 110.0 208.5 110.5 209.0 111.0 209.4 111.5 209.8 112.0 210.1 112.5 210.4 113.0 210.7 113.5 211.0 114.0 211.2 114.5 211.4 115.0 211.6 115.5 211.8 116.0 212.0 116.5 212.2 117.0 212.3 117.5 212.4 118.0 212.5 118.5 212.6 119.0 212.8 119.5 212.9 120.0 213.0 120.5 213.2 121.0 213.3 121.5 213.4 122.0 213.6 122.5 213.7 123.0 213.8 123.5 213.8 124.0 213.9 124.5 213.9 125.0 214.0 125.5 214.0 126.0 214.1 126.5 214.1 127.0 214.2 127.5 214.2 128.0 214.2 128.5 214.3 129.0 214.3 129.5 214.3 130.0 214.3 130.5 214.4 131.0 214.4 131.5 214.4 132.0 214.4 132.5 214.4 133.0 214.5 133.5 214.5 134.0 214.5 134.5 214.5 135.0 214.5 135.5 214.5 136.0 214.5 136.5 214.5 137.0 214.6 137.5 214.6 138.0 214.6 138.5 214.6 139.0 214.6 139.5 214.6 140.0 214.6 140.5 214.6 141.0 214.6 141.5 214.6 142.0 214.6 142.5 214.6 143.0 214.6 143.5 214.6 144.0 214.6 144.5 214.6 145.0 214.6 145.5 214.6 146.0 214.6 146.5 214.6 147.0 214.6 147.5 214.6 148.0 214.6 148.5 214.6 149.0 214.6 149.5 214.6 150.0 214.6 150.5 214.6 151.0 214.6 151.5 214.6 152.0 214.6 152.5 214.6 153.0 214.6 153.5 214.6 154.0 214.6 154.5 214.6 155.0 214.6 155.5 214.6 156.0 214.6 156.5 214.6 157.0 214.6 157.5 214.6 158.0 214.6 158.5 214.6 159.0 214.6 159.5 214.6 160.0 214.6 160.5 214.6 161.0 214.6 161.5 214.6 162.0 214.6 162.5 214.6 163.0 214.6 163.5 214.6 164.0 214.6 164.5 214.6 165.0 214.6 165.5 214.6 166.0 214.6 166.5 214.6 167.0 214.6 167.5 214.6 168.0 214.6 168.5 214.6 169.0 214.6 169.5 214.6 170.0 214.6 170.5 214.6 171.0 214.6 171.5 214.6 172.0 214.6 172.5 214.6 173.0 214.6 173.5 214.6 174.0 214.6 174.5 214.6 175.0 214.6 175.5 214.6" stroke="#000" stroke-width="4.4" fill="none" stroke-linejoin="round" stroke-linecap="round"/>
<path d="M28.5 215.5 29.0 215.5 29.5 215.5 30.0 215.5 30.5 215.5 31.0 215.5 31.5 215.5 32.0 215.5 32.5 215.5 33.0 215.5 33.5 215.5 34.0 215.5 34.5 215.5 35.0 215.5 35.5 215.5 36.0 215.5 36.5 215.5 37.0 215.5 37.5 215.5 38.0 215.5 38.5 215.5 39.0 215.5 39.5 215.5 40.0 215.5 40.5 215.5 41.0 215.5 41.5 215.5 42.0 215.5 42.5 215.5 43.0 215.5 43.5 215.5 44.0 215.5 44.5 215.5 45.0 215.5 45.5 215.5 46.0 215.5 46.5 215.5 47.0 215.5 47.5 215.5 48.0 215.5 48.5 215.5 49.0 215.5 49.5 215.5 50.0 215.5 50.5 215.5 51.0 215.5 51.5 215.5 52.0 215.5 52.5 215.5 53.0 215.5 53.5 215.5 54.0 215.5 54.5 215.5 55.0 215.5 55.5 215.5 56.0 215.5 56.5 215.5 57.0 215.5 57.5 215.5 58.0 215.4 58.5 215.4 59.0 215.4 59.5 215.4 60.0 215.4 60.5 215.4 61.0 215.3 61.5 215.3 62.0 215.3 62.5 215.2 63.0 215.2 63.5 215.2 64.0 215.1 64.5 215.0 65.0 215.0 65.5 214.9 66.0 214.8 66.5 214.7 67.0 214.6 67.5 214.4 68.0 214.3 68.5 214.1 69.0 213.9 69.5 213.7 70.0 213.5 70.5 213.2 71.0 212.9 71.5 212.6 72.0 212.3 72.5 211.9 73.0 211.5 73.5 211.1 74.0 210.6 74.5 210.1 75.0 209.6 75.5 209.0 76.0 208.4 76.5 207.8 77.0 207.1 77.5 206.4 78.0 205.6 78.5 204.8 79.0 204.0 79.5 203.1 80.0 202.3 80.5 201.4 81.0 200.4 81.5 199.5 82.0 198.5 82.5 197.5 83.0 196.5 83.5 195.6 84.0 194.6 84.5 193.6 85.0 192.6 85.5 191.7 86.0 190.8 86.5 189.9 87.0 189.1 87.5 188.2 88.0 187.5 88.5 186.8 89.0 186.1 89.5 185.6 90.0 185.1 90.5 184.6 91.0 184.3 91.5 184.0 92.0 183.8 92.5 183.6 93.0 183.6 93.5 183.7 94.0 183.8 94.5 184.1 95.0 184.4 95.5 184.9 96.0 185.4 96.5 186.1 97.0 186.8 97.5 187.6 98.0 188.5 98.5 189.4 99.0 190.4 99.5 191.4 100.0 192.4 100.5 193.5 101.0 194.6 101.5 195.7 102.0 196.8 102.5 197.9 103.0 199.0 103.5 200.1 104.0 201.2 104.5 202.2 105.0 203.2 105.5 204.1 106.0 205.1 106.5 205.9 107.0 206.8 107.5 207.5 108.0 208.3 108.5 209.0 109.0 209.6 109.5 210.2 110.0 210.8 110.5 211.3 111.0 211.7 111.5 212.2 112.0 212.6 112.5 212.9 113.0 213.2 113.5 213.5 114.0 213.8 114.5 214.0 115.0 214.2 115.5 214.4 116.0 214.5 116.5 214.7 117.0 214.8 117.5 214.9 118.0 215.0 118.5 215.1 119.0 215.1 119.5 215.2 120.0 215.2 120.5 215.3 121.0 215.3 121.5 215.4 122.0 215.4 122.5 215.4 123.0 215.4 123.5 215.4 124.0 215.4 124.5 215.5 125.0 215.5 125.5 215.5 126.0 215.5 126.5 215.5 127.0 215.5 127.5 215.5 128.0 215.5 128.5 215.5 129.0 215.5 129.5 215.5 130.0 215.5 130.5 215.5 131.0 215.5 131.5 215.5 132.0 215.5 132.5 215.5 133.0 215.5 133.5 215.5 134.0 215.5 134.5 215.5 135.0 215.5 135.5 215.5 136.0 215.5 136.5 215.5 137.0 215.5 137.5 215.5 138.0 215.5 138.5 215.5 139.0 215.5 139.5 215.5 140.0 215.5 140.5 215.5 141.0 215.5 141.5 215.5 142.0 215.5 142.5 215.5 143.0 215.5 143.5 215.5 144.0 215.5 144.5 215.5 145.0 215.5 145.5 215.5 146.0 215.5 146.5 215.5 147.0 215.5 147.5 215.5 148.0 215.5 148.5 215.5 149.0 215.5 149.5 215.5 150.0 215.5 150.5 215.5 151.0 215.5 151.5 215.5 152.0 215.5 152.5 215.5 153.0 215.5 153.5 215.5 154.0 215.5 154.5 215.5 155.0 215.5 155.5 215.5 156.0 215.5 156.5 215.5 157.0 215.5 157.5 215.5 158.0 215.5 158.5 215.5 159.0 215.5 159.5 215.5 160.0 215.5 160.5 215.5 161.0 215.5 161.5 215.5 162.0 215.5 162.5 215.5 163.0 215.5 163.5 215.5 164.0 215.5 164.5 215.5 165.0 215.5 165.5 215.5 166.0 215.5 166.5 215.5 167.0 215.5 167.5 215.5 168.0 215.5 168.5 215.5 169.0 215.5 169.5 215.5 170.0 215.5 170.5 215.5 171.0 215.5 171.5 215.5 172.0 215.5 172.5 215.5 173.0 215.5 173.5 215.5 174.0 215.5 174.5 215.5 175.0 215.5 175.5 215.5 176.0 215.5" stroke="#ff1010" stroke-width="1.1" fill="none"/>
<path d="M28.5 216.2 29.0 216.2 29.5 216.2 30.0 216.2 30.5 216.2 31.0 216.2 31.5 216.2 32.0 216.2 32.5 216.2 33.0 216.2 33.5 216.2 34.0 216.2 34.5 216.2 35.0 216.2 35.5 216.2 36.0 216.2 36.5 216.2 37.0 216.2 37.5 216.2 38.0 216.2 38.5 216.2 39.0 216.2 39.5 216.2 40.0 216.2 40.5 216.2 41.0 216.1 41.5 216.1 42.0 216.1 42.5 216.1 43.0 216.1 43.5 216.1 44.0 216.1 44.5 216.1 45.0 216.1 45.5 216.1 46.0 216.1 46.5 216.1 47.0 216.1 47.5 216.1 48.0 216.1 48.5 216.1 49.0 216.1 49.5 216.1 50.0 216.1 50.5 216.1 51.0 216.1 51.5 216.1 52.0 216.1 52.5 216.0 53.0 216.0 53.5 216.0 54.0 216.0 54.5 216.0 55.0 216.0 55.5 215.9 56.0 215.9 56.5 215.9 57.0 215.8 57.5 215.8 58.0 215.7 58.5 215.7 59.0 215.6 59.5 215.6 60.0 215.5 60.5 215.4 61.0 215.3 61.5 215.2 62.0 215.1 62.5 215.0 63.0 214.8 63.5 214.7 64.0 214.5 64.5 214.3 65.0 214.2 65.5 214.0 66.0 213.7 66.5 213.5 67.0 213.3 67.5 213.0 68.0 212.8 68.5 212.5 69.0 212.2 69.5 212.0 70.0 211.7 70.5 211.4 71.0 211.1 71.5 210.8 72.0 210.5 72.5 210.2 73.0 209.9 73.5 209.7 74.0 209.4 74.5 209.1 75.0 208.9 75.5 208.7 76.0 208.5 76.5 208.3 77.0 208.1 77.5 208.0 78.0 207.9 78.5 207.8 79.0 207.8 79.5 207.8 80.0 207.8 80.5 207.8 81.0 207.9 81.5 208.0 82.0 208.1 82.5 208.2 83.0 208.4 83.5 208.6 84.0 208.8 84.5 209.0 85.0 209.2 85.5 209.5 86.0 209.8 86.5 210.0 87.0 210.3 87.5 210.6 88.0 210.9 88.5 211.2 89.0 211.5 89.5 211.8 90.0 212.0 90.5 212.3 91.0 212.6 91.5 212.8 92.0 213.1 92.5 213.3 93.0 213.5 93.5 213.7 94.0 213.9 94.5 214.1 95.0 214.3 95.5 214.5 96.0 214.6 96.5 214.7 97.0 214.9 97.5 215.0 98.0 215.1 98.5 215.2 99.0 215.3 99.5 215.3 100.0 215.4 100.5 215.5 101.0 215.5 101.5 215.6 102.0 215.6 102.5 215.6 103.0 215.7 103.5 215.7 104.0 215.7 104.5 215.7 105.0 215.7 105.5 215.8 106.0 215.8 106.5 215.8 107.0 215.8 107.5 215.8 108.0 215.8 108.5 215.8 109.0 215.8 109.5 215.8 110.0 215.8 110.5 215.8 111.0 215.8 111.5 215.8 112.0 215.8 112.5 215.8 113.0 215.8 113.5 215.8 114.0 215.8 114.5 215.8 115.0 215.8 115.5 215.8 116.0 215.8 116.5 215.8 117.0 215.8 117.5 215.8 118.0 215.8 118.5 215.8 119.0 215.8 119.5 215.8 120.0 215.8 120.5 215.8 121.0 215.8 121.5 215.8 122.0 215.8 122.5 215.8 123.0 215.8 123.5 215.8 124.0 215.7 124.5 215.7 125.0 215.7 125.5 215.7 126.0 215.7 126.5 215.7 127.0 215.7 127.5 215.7 128.0 215.7 128.5 215.7 129.0 215.7 129.5 215.7 130.0 215.7 130.5 215.7 131.0 215.7 131.5 215.7 132.0 215.7 132.5 215.7 133.0 215.7 133.5 215.7 134.0 215.7 134.5 215.7 135.0 215.7 135.5 215.7 136.0 215.7 136.5 215.7 137.0 215.7 137.5 215.7 138.0 215.7 138.5 215.7 139.0 215.7 139.5 215.7 140.0 215.7 140.5 215.7 141.0 215.7 141.5 215.7 142.0 215.7 142.5 215.7 143.0 215.7 143.5 215.7 144.0 215.7 144.5 215.7 145.0 215.6 145.5 215.6 146.0 215.6 146.5 215.6 147.0 215.6 147.5 215.6 148.0 215.6 148.5 215.6 149.0 215.6 149.5 215.6 150.0 215.6 150.5 215.6 151.0 215.6 151.5 215.6 152.0 215.6 152.5 215.6 153.0 215.6 153.5 215.6 154.0 215.6 154.5 215.6 155.0 215.6 155.5 215.6 156.0 215.6 156.5 215.6 157.0 215.6 157.5 215.6 158.0 215.6 158.5 215.6 159.0 215.6 159.5 215.6 160.0 215.6 160.5 215.6 161.0 215.6 161.5 215.6 162.0 215.6 162.5 215.6 163.0 215.6 163.5 215.6 164.0 215.6 164.5 215.6 165.0 215.6 165.5 215.6 166.0 215.5 166.5 215.5 167.0 215.5 167.5 215.5 168.0 215.5 168.5 215.5 169.0 215.5 169.5 215.5 170.0 215.5 170.5 215.5 171.0 215.5 171.5 215.5 172.0 215.5 172.5 215.5 173.0 215.5 173.5 215.5 174.0 215.5 174.5 215.5 175.0 215.5 175.5 215.5 176.0 215.5" stroke="#ff1010" stroke-width="1.1" fill="none"/>
<path d="M28.5 214.8L60 215.0L75 215.2L112 215.4L176 215.4" stroke="#f00000" stroke-width="1.4" fill="none"/>
</g>
<rect x="26.5" y="4.5" width="150.7" height="212.2" fill="none" stroke="#3c3c3c" stroke-width="1.3"/>
<path d="M25.9 216.7H177.79999999999998" stroke="#202020" stroke-width="1.2"/>
<path d="M174.82 216.70V219.70 M170.28 216.70V219.70 M165.74 216.70V219.70 M161.20 216.70V219.70 M156.66 216.70V222.50 M152.12 216.70V219.70 M147.58 216.70V219.70 M143.04 216.70V219.70 M138.50 216.70V219.70 M133.96 216.70V219.70 M129.42 216.70V219.70 M124.88 216.70V219.70 M120.34 216.70V222.50 M115.80 216.70V219.70 M111.26 216.70V219.70 M106.72 216.70V219.70 M102.18 216.70V219.70 M97.64 216.70V219.70 M93.10 216.70V219.70 M88.56 216.70V219.70 M84.02 216.70V222.50 M79.48 216.70V219.70 M74.94 216.70V219.70 M70.40 216.70V219.70 M65.86 216.70V219.70 M61.32 216.70V219.70 M56.78 216.70V219.70 M52.24 216.70V219.70 M47.70 216.70V222.50 M43.16 216.70V219.70 M38.62 216.70V219.70 M34.08 216.70V219.70 M29.54 216.70V219.70" stroke="#202020" stroke-width="1.05" fill="none"/>
<text x="47.9" y="233.6" font-size="8.7" text-anchor="middle" >536</text>
<text x="84.22" y="233.6" font-size="8.7" text-anchor="middle" >532</text>
<text x="120.54" y="233.6" font-size="8.7" text-anchor="middle" >528</text>
<text x="156.86" y="233.6" font-size="8.7" text-anchor="middle" >524</text>
<text x="51.0" y="246.2" font-size="11.2" textLength="102" lengthAdjust="spacingAndGlyphs" >Binding energy (eV)</text>
<text x="0" y="0" font-size="11.2" text-anchor="middle" textLength="97.5" lengthAdjust="spacingAndGlyphs" transform="translate(17.0,109.5) rotate(-90)">XPS intensity (cps)</text>
<path d="M27 9.50H40" stroke="#0a0aff" stroke-width="1.1"/>
<path d="M33.4 5.80L37.4 9.50L33.4 13.20L29.4 9.50Z" fill="#0a0aff"/>
<text x="44.6" y="12.7" font-size="8.4" textLength="73.6" lengthAdjust="spacingAndGlyphs" >7Ce3Mn/10LaAl_cit</text>
<path d="M27 19.47H40" stroke="#ff1010" stroke-width="1.1"/>
<path d="M33.4 15.77L37.4 19.47L33.4 23.17L29.4 19.47Z" fill="#ff1010"/>
<text x="44.6" y="22.67" font-size="8.4" textLength="73.6" lengthAdjust="spacingAndGlyphs" >7Ce3Mn/10LaAl_pp</text>
<path d="M27 29.44H40" stroke="#0a9a0a" stroke-width="1.1"/>
<path d="M33.4 25.74L37.4 29.44L33.4 33.14L29.4 29.44Z" fill="#0a9a0a"/>
<text x="44.6" y="32.64" font-size="8.4" textLength="77.7" lengthAdjust="spacingAndGlyphs" >7Ce3Mn/10LaAl_imp</text>
<path d="M27 39.41H40" stroke="#000" stroke-width="1.1"/>
<path d="M33.4 35.71L37.4 39.41L33.4 43.11L29.4 39.41Z" fill="#000"/>
<text x="44.6" y="42.61" font-size="8.4" textLength="48.1" lengthAdjust="spacingAndGlyphs" >Sasol Puralox</text>
<text x="130.6" y="21.9" font-size="8.4" textLength="17.8" lengthAdjust="spacingAndGlyphs" >O 1s</text>
<text x="100.6" y="265.8" font-size="10.4" style='font-family:"Liberation Serif", "Times New Roman", serif;stroke-width:0px;' text-anchor="middle" textLength="11.4" lengthAdjust="spacingAndGlyphs" >(<tspan font-weight="bold">b</tspan>)</text>
<path d="M234.0 110.6 234.5 110.7 235.0 110.3 235.5 110.0 236.0 110.3 236.5 110.3 237.0 110.1 237.5 110.2 238.0 110.2 238.5 110.1 239.0 110.0 239.5 109.9 240.0 109.6 240.5 109.5 241.0 109.6 241.5 109.8 242.0 109.7 242.5 109.4 243.0 109.3 243.5 109.4 244.0 109.5 244.5 109.7 245.0 110.1 245.5 109.7 246.0 108.7 246.5 108.7 247.0 109.3 247.5 109.6 248.0 109.8 248.5 110.3 249.0 110.4 249.5 109.9 250.0 110.0 250.5 110.7 251.0 110.7 251.5 110.3 252.0 109.8 252.5 109.6 253.0 110.0 253.5 110.1 254.0 109.8 254.5 109.9 255.0 110.0 255.5 110.0 256.0 110.1 256.5 110.3 257.0 110.2 257.5 110.2 258.0 110.5 258.5 110.6 259.0 110.3 259.5 110.0 260.0 110.1 260.5 110.1 261.0 110.0 261.5 109.9 262.0 110.0 262.5 109.8 263.0 109.4 263.5 109.5 264.0 109.7 264.5 109.6 265.0 109.2 265.5 109.1 266.0 109.3 266.5 109.4 267.0 109.5 267.5 109.3 268.0 108.9 268.5 109.2 269.0 109.4 269.5 109.0 270.0 108.7 270.5 108.9 271.0 109.0 271.5 108.8 272.0 108.3 272.5 107.8 273.0 107.8 273.5 107.9 274.0 108.0 274.5 107.5 275.0 106.7 275.5 106.6 276.0 106.9 276.5 106.6 277.0 106.0 277.5 105.7 278.0 105.5 278.5 105.3 279.0 105.0 279.5 104.5 280.0 104.0 280.5 103.8 281.0 103.4 281.5 102.7 282.0 102.6 282.5 102.6 283.0 102.2 283.5 102.1 284.0 102.0 284.5 101.9 285.0 101.7 285.5 101.6 286.0 101.4 286.5 100.8 287.0 99.9 287.5 99.7 288.0 100.0 288.5 99.6 289.0 99.1 289.5 99.2 290.0 99.5 290.5 99.9 291.0 100.0 291.5 100.1 292.0 100.3 292.5 100.6 293.0 100.9 293.5 101.7 294.0 102.1 294.5 101.5 295.0 101.6 295.5 103.0 296.0 103.9 296.5 103.5 297.0 103.5 297.5 104.2 298.0 104.5 298.5 104.8 299.0 105.4 299.5 105.9 300.0 106.2 300.5 106.6 301.0 106.8 301.5 106.9 302.0 107.2 302.5 107.6 303.0 108.0 303.5 108.1 304.0 108.7 304.5 109.5 305.0 109.8 305.5 109.9 306.0 110.2 306.5 110.3 307.0 110.6 307.5 111.0 308.0 111.1 308.5 111.2 309.0 111.6 309.5 111.6 310.0 111.5 310.5 111.7 311.0 112.3 311.5 112.6 312.0 112.3 312.5 112.0 313.0 111.8 313.5 112.2 314.0 112.6 314.5 112.2 315.0 111.9 315.5 112.0 316.0 112.1 316.5 112.2 317.0 112.1 317.5 111.4 318.0 110.6 318.5 110.4 319.0 110.1 319.5 109.8 320.0 109.5 320.5 108.8 321.0 108.3 321.5 108.1 322.0 107.6 322.5 107.0 323.0 107.2 323.5 107.1 324.0 106.4 324.5 105.6 325.0 105.3 325.5 105.5 326.0 104.7 326.5 103.3 327.0 102.7 327.5 102.3 328.0 101.7 328.5 101.3 329.0 101.1 329.5 101.0 330.0 100.0 330.5 98.7 331.0 98.1 331.5 97.8 332.0 97.6 332.5 97.2 333.0 96.3 333.5 95.7 334.0 95.9 334.5 95.4 335.0 94.3 335.5 93.7 336.0 93.3 336.5 92.8 337.0 92.8 337.5 93.0 338.0 92.6 338.5 92.6 339.0 93.0 339.5 93.2 340.0 93.5 340.5 94.0 341.0 94.5 341.5 94.9 342.0 95.6 342.5 96.4 343.0 97.2 343.5 98.0 344.0 98.9 344.5 99.9 345.0 100.6 345.5 101.3 346.0 102.1 346.5 102.9 347.0 103.9 347.5 105.0 348.0 105.8 348.5 106.8 349.0 108.2 349.5 109.2 350.0 109.7 350.5 110.4 351.0 111.9 351.5 112.9 352.0 113.7 352.5 114.8 353.0 115.4 353.5 116.0 354.0 117.0 354.5 117.8 355.0 118.2 355.5 118.7 356.0 119.7 356.5 119.8 357.0 120.0 357.5 121.0 358.0 121.7 358.5 122.2 359.0 122.7 359.5 123.1 360.0 123.5 360.5 123.8 361.0 124.2 361.5 124.3 362.0 124.4 362.5 124.8 363.0 125.2 363.5 125.1 364.0 125.2 364.5 125.4 365.0 125.1 365.5 125.3 366.0 125.7 366.5 125.8 367.0 126.1 367.5 126.5 368.0 126.7 368.5 126.4 369.0 126.5 369.5 126.5 370.0 126.8 370.5 127.5 371.0 127.3 371.5 127.1 372.0 127.5 372.5 127.2 373.0 127.0 373.5 127.6 374.0 127.8 374.5 127.6 375.0 127.6 375.5 127.7 376.0 127.7 376.5 127.9 377.0 127.9 377.5 127.6 378.0 127.5 378.5 127.7 379.0 128.0 379.5 128.4 380.0 128.5 380.5 128.5 381.0 128.5 381.5 128.3 382.0 128.3 382.5 128.8 383.0 129.1 383.5 128.7" stroke="#0a0aff" stroke-width="1.1" fill="none"/>
<path d="M234.0 157.4 234.5 157.2 235.0 156.8 235.5 156.9 236.0 157.8 236.5 158.0 237.0 157.6 237.5 157.7 238.0 157.6 238.5 157.5 239.0 157.6 239.5 157.5 240.0 157.2 240.5 157.2 241.0 157.5 241.5 157.6 242.0 157.5 242.5 157.4 243.0 157.3 243.5 157.4 244.0 157.7 244.5 157.7 245.0 157.7 245.5 157.5 246.0 157.4 246.5 157.9 247.0 158.0 247.5 157.1 248.0 156.6 248.5 157.0 249.0 157.6 249.5 157.9 250.0 158.1 250.5 158.0 251.0 157.8 251.5 157.7 252.0 157.8 252.5 157.8 253.0 157.4 253.5 157.5 254.0 158.0 254.5 158.3 255.0 157.7 255.5 157.3 256.0 157.7 256.5 158.1 257.0 158.2 257.5 158.0 258.0 157.8 258.5 158.2 259.0 158.3 259.5 157.8 260.0 158.1 260.5 158.4 261.0 158.4 261.5 158.7 262.0 158.9 262.5 158.4 263.0 157.8 263.5 157.7 264.0 157.9 264.5 157.8 265.0 157.6 265.5 157.7 266.0 157.5 266.5 157.0 267.0 156.3 267.5 156.4 268.0 157.1 268.5 157.4 269.0 157.3 269.5 156.8 270.0 156.4 270.5 156.4 271.0 156.1 271.5 155.6 272.0 155.8 272.5 156.3 273.0 156.1 273.5 155.6 274.0 155.2 274.5 155.0 275.0 155.1 275.5 154.7 276.0 154.3 276.5 154.0 277.0 153.9 277.5 154.0 278.0 153.9 278.5 153.6 279.0 153.4 279.5 153.0 280.0 152.5 280.5 152.1 281.0 151.8 281.5 151.6 282.0 151.1 282.5 150.6 283.0 150.3 283.5 149.8 284.0 149.5 284.5 149.6 285.0 149.9 285.5 149.9 286.0 150.0 286.5 150.0 287.0 149.5 287.5 149.2 288.0 149.3 288.5 149.1 289.0 149.0 289.5 148.9 290.0 148.7 290.5 148.6 291.0 149.0 291.5 149.0 292.0 149.1 292.5 149.8 293.0 150.0 293.5 149.7 294.0 149.7 294.5 150.1 295.0 150.6 295.5 151.2 296.0 151.6 296.5 151.6 297.0 151.8 297.5 152.1 298.0 152.4 298.5 153.0 299.0 153.8 299.5 154.6 300.0 154.9 300.5 154.9 301.0 155.1 301.5 155.7 302.0 156.3 302.5 156.4 303.0 156.3 303.5 156.2 304.0 156.4 304.5 156.9 305.0 157.2 305.5 157.2 306.0 157.2 306.5 157.6 307.0 158.0 307.5 158.3 308.0 158.5 308.5 158.3 309.0 158.1 309.5 158.2 310.0 158.2 310.5 158.2 311.0 158.4 311.5 158.5 312.0 158.7 312.5 159.0 313.0 158.9 313.5 158.4 314.0 158.0 314.5 158.0 315.0 158.0 315.5 157.9 316.0 158.2 316.5 158.2 317.0 158.1 317.5 158.3 318.0 158.1 318.5 157.6 319.0 157.1 319.5 157.0 320.0 156.7 320.5 156.2 321.0 156.1 321.5 155.4 322.0 154.4 322.5 154.0 323.0 153.8 323.5 153.8 324.0 153.3 324.5 152.2 325.0 151.6 325.5 151.4 326.0 151.2 326.5 151.1 327.0 150.4 327.5 149.6 328.0 148.8 328.5 148.0 329.0 147.9 329.5 147.8 330.0 147.0 330.5 146.4 331.0 146.4 331.5 146.3 332.0 145.3 332.5 144.6 333.0 144.2 333.5 143.5 334.0 143.2 334.5 143.0 335.0 142.7 335.5 142.5 336.0 142.4 336.5 141.9 337.0 141.0 337.5 140.7 338.0 141.4 338.5 142.0 339.0 141.9 339.5 141.8 340.0 142.0 340.5 142.4 341.0 142.8 341.5 142.9 342.0 143.3 342.5 144.4 343.0 145.1 343.5 145.7 344.0 147.1 344.5 148.0 345.0 148.2 345.5 149.0 346.0 150.5 346.5 151.6 347.0 151.9 347.5 152.7 348.0 154.1 348.5 154.9 349.0 156.1 349.5 157.9 350.0 158.9 350.5 159.2 351.0 159.7 351.5 160.3 352.0 160.9 352.5 161.9 353.0 162.7 353.5 163.1 354.0 164.0 354.5 165.2 355.0 166.0 355.5 166.7 356.0 167.3 356.5 167.3 357.0 167.3 357.5 167.7 358.0 168.6 358.5 169.4 359.0 169.7 359.5 169.9 360.0 169.9 360.5 170.0 361.0 170.2 361.5 170.8 362.0 171.7 362.5 171.9 363.0 171.5 363.5 171.5 364.0 171.7 364.5 171.9 365.0 172.1 365.5 172.1 366.0 172.2 366.5 172.3 367.0 172.3 367.5 172.2 368.0 172.2 368.5 172.4 369.0 172.8 369.5 173.0 370.0 173.5 370.5 173.9 371.0 173.9 371.5 173.7 372.0 173.7 372.5 173.8 373.0 174.2 373.5 174.1 374.0 173.8 374.5 174.2 375.0 174.1 375.5 173.4 376.0 173.6 376.5 173.8 377.0 173.6 377.5 173.7 378.0 174.2 378.5 174.6 379.0 175.2 379.5 175.4 380.0 175.1 380.5 174.9 381.0 174.8 381.5 174.5 382.0 173.9 382.5 173.6 383.0 174.0 383.5 174.5" stroke="#ff1010" stroke-width="1.1" fill="none"/>
<path d="M234.5 207.2 235.0 206.6 235.5 206.7 236.0 206.8 236.5 206.8 237.0 206.6 237.5 206.3 238.0 206.5 238.5 207.2 239.0 207.9 239.5 207.6 240.0 206.9 240.5 206.8 241.0 206.6 241.5 206.6 242.0 206.9 242.5 207.1 243.0 207.2 243.5 207.3 244.0 207.1 244.5 207.3 245.0 207.6 245.5 207.4 246.0 207.0 246.5 207.0 247.0 207.5 247.5 207.7 248.0 207.2 248.5 207.0 249.0 207.1 249.5 206.8 250.0 206.9 250.5 207.3 251.0 207.3 251.5 207.1 252.0 206.7 252.5 206.3 253.0 206.6 253.5 206.5 254.0 206.2 254.5 206.7 255.0 207.0 255.5 206.6 256.0 206.3 256.5 206.5 257.0 206.9 257.5 207.2 258.0 207.1 258.5 206.9 259.0 206.9 259.5 206.5 260.0 206.3 260.5 206.6 261.0 206.6 261.5 206.3 262.0 206.1 262.5 205.8 263.0 205.6 263.5 206.0 264.0 206.1 264.5 205.6 265.0 205.6 265.5 205.7 266.0 205.6 266.5 205.1 267.0 205.2 267.5 205.9 268.0 205.7 268.5 204.9 269.0 204.9 269.5 205.2 270.0 205.3 270.5 205.3 271.0 204.9 271.5 204.6 272.0 204.7 272.5 204.9 273.0 204.7 273.5 204.0 274.0 204.0 274.5 204.5 275.0 204.6 275.5 204.4 276.0 204.2 276.5 203.7 277.0 203.1 277.5 202.7 278.0 202.8 278.5 202.8 279.0 202.2 279.5 201.9 280.0 202.0 280.5 202.1 281.0 201.8 281.5 201.0 282.0 200.6 282.5 201.1 283.0 201.4 283.5 201.2 284.0 200.7 284.5 200.4 285.0 200.2 285.5 200.1 286.0 199.9 286.5 199.5 287.0 199.3 287.5 199.3 288.0 199.2 288.5 199.4 289.0 199.7 289.5 199.6 290.0 198.8 290.5 197.9 291.0 197.8 291.5 198.2 292.0 198.1 292.5 198.0 293.0 198.8 293.5 199.1 294.0 198.7 294.5 198.7 295.0 199.2 295.5 199.8 296.0 200.6 296.5 201.0 297.0 200.9 297.5 201.0 298.0 201.4 298.5 201.8 299.0 202.1 299.5 202.0 300.0 201.7 300.5 201.7 301.0 202.2 301.5 202.9 302.0 203.1 302.5 202.8 303.0 203.0 303.5 203.3 304.0 203.2 304.5 203.3 305.0 204.2 305.5 204.7 306.0 204.3 306.5 203.9 307.0 203.7 307.5 204.0 308.0 204.7 308.5 205.0 309.0 205.0 309.5 205.0 310.0 205.0 310.5 204.8 311.0 204.5 311.5 204.7 312.0 204.9 312.5 204.7 313.0 204.6 313.5 204.6 314.0 204.8 314.5 205.0 315.0 204.7 315.5 204.6 316.0 204.8 316.5 205.0 317.0 204.5 317.5 203.8 318.0 203.8 318.5 203.7 319.0 203.6 319.5 203.7 320.0 203.6 320.5 203.2 321.0 202.9 321.5 202.6 322.0 202.0 322.5 201.5 323.0 201.3 323.5 201.1 324.0 201.2 324.5 201.1 325.0 200.6 325.5 199.7 326.0 199.0 326.5 198.8 327.0 198.5 327.5 198.0 328.0 197.6 328.5 197.5 329.0 197.2 329.5 196.7 330.0 196.2 330.5 195.5 331.0 194.8 331.5 194.3 332.0 194.0 332.5 194.0 333.0 193.9 333.5 193.4 334.0 193.2 334.5 193.0 335.0 192.4 335.5 191.7 336.0 191.0 336.5 190.6 337.0 190.5 337.5 190.4 338.0 190.7 338.5 191.2 339.0 191.4 339.5 191.4 340.0 191.4 340.5 191.8 341.0 192.1 341.5 192.5 342.0 192.9 342.5 193.3 343.0 193.6 343.5 193.9 344.0 194.2 344.5 194.5 345.0 195.2 345.5 196.1 346.0 197.2 346.5 197.6 347.0 197.6 347.5 198.3 348.0 199.0 348.5 199.5 349.0 200.3 349.5 200.6 350.0 200.9 350.5 201.7 351.0 202.5 351.5 202.9 352.0 203.3 352.5 204.2 353.0 204.7 353.5 204.7 354.0 205.1 354.5 205.7 355.0 206.4 355.5 207.2 356.0 207.3 356.5 207.1 357.0 207.4 357.5 208.4 358.0 209.1 358.5 209.1 359.0 209.1 359.5 209.5 360.0 210.0 360.5 210.4 361.0 210.3 361.5 210.5 362.0 210.8 362.5 210.8 363.0 211.0 363.5 211.5 364.0 211.6 364.5 211.4 365.0 211.4 365.5 211.7 366.0 212.3 366.5 212.8 367.0 213.0 367.5 213.2 368.0 213.2 368.5 213.2 369.0 213.4 369.5 213.5 370.0 213.4 370.5 213.8 371.0 214.0 371.5 213.7 372.0 213.6 372.5 214.1 373.0 214.3 373.5 213.9 374.0 213.7 374.5 213.9 375.0 213.9 375.5 213.6 376.0 213.9 376.5 214.2 377.0 214.1 377.5 214.4 378.0 214.3 378.5 214.0 379.0 213.8 379.5 213.6 380.0 214.0 380.5 214.5 381.0 214.5 381.5 214.6 382.0 214.6 382.5 214.5 383.0 214.1 383.5 213.6" stroke="#22a522" stroke-width="1.1" fill="none"/>
<path d="M288.5 74V175.5M338 73.3V159" stroke="#1a1a1a" stroke-width="1.1" stroke-dasharray="1,1" fill="none"/>
<path d="M299 81.4H328" stroke="#222" stroke-width="1.0" stroke-dasharray="1,1"/>
<path d="M292 81.4L300 79.2L300 83.6Z M335.2 81.4L327.2 79.2L327.2 83.6Z" fill="#111"/>
<text x="300.5" y="76.0" font-size="8.4" style='stroke-width:0.45px;' textLength="24.4" lengthAdjust="spacingAndGlyphs" >5.6 eV</text>
<path d="M291.9 171.2V208.4M337.9 171V208.4" stroke="#4a4a4a" stroke-width="1.6" fill="none"/>
<path d="M301 182.7H331" stroke="#111" stroke-width="1.0"/>
<path d="M295 182.7L302.6 180.5L302.6 184.9Z M337.3 182.7L330 180.5L330 184.9Z" fill="#111"/>
<text x="302.8" y="176.9" font-size="8.4" style='stroke-width:0.45px;' textLength="24.4" lengthAdjust="spacingAndGlyphs" >5.2 eV</text>
<rect x="233.0" y="8.0" width="151.8" height="208.5" fill="none" stroke="#3c3c3c" stroke-width="1.3"/>
<path d="M232.4 216.5H385.40000000000003" stroke="#202020" stroke-width="1.2"/>
<path d="M384.20 216.50V219.20 M379.80 216.50V219.20 M375.40 216.50V219.20 M371.00 216.50V219.20 M366.60 216.50V222.10 M362.20 216.50V219.20 M357.80 216.50V219.20 M353.40 216.50V219.20 M349.00 216.50V219.20 M344.60 216.50V219.20 M340.20 216.50V219.20 M335.80 216.50V219.20 M331.40 216.50V222.10 M327.00 216.50V219.20 M322.60 216.50V219.20 M318.20 216.50V219.20 M313.80 216.50V219.20 M309.40 216.50V219.20 M305.00 216.50V219.20 M300.60 216.50V219.20 M296.20 216.50V222.10 M291.80 216.50V219.20 M287.40 216.50V219.20 M283.00 216.50V219.20 M278.60 216.50V219.20 M274.20 216.50V219.20 M269.80 216.50V219.20 M265.40 216.50V219.20 M261.00 216.50V222.10 M256.60 216.50V219.20 M252.20 216.50V219.20 M247.80 216.50V219.20 M243.40 216.50V219.20 M239.00 216.50V219.20 M234.60 216.50V219.20" stroke="#202020" stroke-width="1.05" fill="none"/>
<text x="261.0" y="231.8" font-size="8.7" text-anchor="middle" >92</text>
<text x="296.2" y="231.8" font-size="8.7" text-anchor="middle" >88</text>
<text x="331.4" y="231.8" font-size="8.7" text-anchor="middle" >84</text>
<text x="366.6" y="231.8" font-size="8.7" text-anchor="middle" >80</text>
<text x="259.3" y="245.4" font-size="11.2" textLength="101" lengthAdjust="spacingAndGlyphs" >Binding energy (eV)</text>
<text x="0" y="0" font-size="11.2" text-anchor="middle" textLength="96.5" lengthAdjust="spacingAndGlyphs" transform="translate(222.0,112.0) rotate(-90)">XPS intensity (cps)</text>
<path d="M236.6 21.20H249.4" stroke="#0a0aff" stroke-width="1.2"/>
<text x="254.2" y="24.5" font-size="8.4" textLength="72.6" lengthAdjust="spacingAndGlyphs" >7Ce3Mn/10LaAl_cit</text>
<path d="M236.6 31.05H249.4" stroke="#ff1010" stroke-width="1.2"/>
<text x="254.2" y="34.35" font-size="8.4" textLength="72.2" lengthAdjust="spacingAndGlyphs" >7Ce3Mn/10LaAl_pp</text>
<path d="M236.6 40.90H249.4" stroke="#22a522" stroke-width="1.2"/>
<text x="254.2" y="44.2" font-size="8.4" textLength="77.2" lengthAdjust="spacingAndGlyphs" >7Ce3Mn/10LaAl_imp</text>
<text x="354.0" y="33.5" font-size="8.4" textLength="22.1" lengthAdjust="spacingAndGlyphs" >Mn 3s</text>
<text x="309.0" y="265.8" font-size="10.4" style='font-family:"Liberation Serif", "Times New Roman", serif;stroke-width:0px;' text-anchor="middle" textLength="11.4" lengthAdjust="spacingAndGlyphs" >(<tspan font-weight="bold">c</tspan>)</text>
<path d="M25.0 406.1 25.6 406.3 26.2 406.5 26.8 406.3 27.4 406.0 28.0 406.0 28.6 406.1 29.2 406.1 29.8 406.0 30.4 406.2 31.0 406.4 31.6 406.5 32.2 406.4 32.8 406.2 33.4 406.2 34.0 406.3 34.6 406.2 35.2 406.3 35.8 406.2 36.4 406.1 37.0 406.0 37.6 406.1 38.2 406.3 38.8 406.4 39.4 406.4 40.0 406.1 40.6 406.1 41.2 406.2 41.8 406.2 42.4 406.0 43.0 406.1 43.6 406.2 44.2 406.2 44.8 406.4 45.4 406.5 46.0 406.5 46.6 406.5 47.2 406.2 47.8 406.1 48.4 406.3 49.0 406.5 49.6 406.4 50.2 406.2 50.8 406.1 51.4 406.1 52.0 406.2 52.6 406.2 53.2 406.4 53.8 406.6 54.4 406.4 55.0 406.3 55.6 406.3 56.2 406.2 56.8 406.2 57.4 406.3 58.0 406.3 58.6 406.2 59.2 406.3 59.8 406.3 60.4 406.3 61.0 406.4 61.6 406.4 62.2 406.4 62.8 406.2 63.4 406.1 64.0 406.0 64.6 406.0 65.2 406.0 65.8 405.8 66.4 405.8 67.0 406.0 67.6 405.8 68.2 405.6 68.8 405.7 69.4 405.6 70.0 405.4 70.6 405.2 71.2 404.9 71.8 404.6 72.4 404.3 73.0 404.4 73.6 404.4 74.2 404.6 74.8 404.4 75.4 403.9 76.0 403.6 76.6 403.3 77.2 402.8 77.8 402.3 78.4 401.9 79.0 401.6 79.6 401.3 80.2 401.0 80.8 400.7 81.4 400.3 82.0 399.8 82.6 399.2 83.2 398.8 83.8 398.1 84.4 397.3 85.0 396.6 85.6 395.9 86.2 395.3 86.8 394.5 87.4 393.6 88.0 392.7 88.6 391.7 89.2 390.7 89.8 389.7 90.4 388.8 91.0 387.8 91.6 386.7 92.2 385.5 92.8 384.3 93.4 383.1 94.0 382.0 94.6 380.7 95.2 379.3 95.8 377.9 96.4 376.6 97.0 375.5 97.6 374.2 98.2 372.9 98.8 371.8 99.4 370.5 100.0 368.8 100.6 367.4 101.2 366.2 101.8 364.8 102.4 363.3 103.0 362.0 103.6 360.8 104.2 359.5 104.8 358.3 105.4 357.0 106.0 355.6 106.6 354.3 107.2 353.2 107.8 352.5 108.4 351.9 109.0 350.9 109.6 350.3 110.2 349.6 110.8 348.8 111.4 348.1 112.0 347.6 112.6 347.0 113.2 346.7 113.8 346.6 114.4 346.5 115.0 346.4 115.6 346.3 116.2 346.4 116.8 346.6 117.4 347.0 118.0 347.6 118.6 348.3 119.2 349.1 119.8 350.0 120.4 350.9 121.0 352.0 121.6 353.4 122.2 354.9 122.8 356.4 123.4 358.0 124.0 359.2 124.6 360.4 125.2 362.4 125.8 364.5 126.4 366.1 127.0 367.6 127.6 369.5 128.2 371.5 128.8 373.4 129.4 375.0 130.0 376.8 130.6 378.6 131.2 380.1 131.8 381.5 132.4 383.2 133.0 384.8 133.6 386.3 134.2 387.7 134.8 388.9 135.4 390.0 136.0 391.7 136.6 393.0 137.2 393.9 137.8 394.9 138.4 395.9 139.0 396.8 139.6 397.7 140.2 398.6 140.8 399.3 141.4 399.9 142.0 400.7 142.6 401.6 143.2 402.3 143.8 402.6 144.4 402.9 145.0 403.3 145.6 403.9 146.2 404.3 146.8 404.4 147.4 404.6 148.0 404.7 148.6 405.0 149.2 405.3 149.8 405.3 150.4 405.4 151.0 405.9 151.6 406.1 152.2 406.2 152.8 406.3 153.4 406.4 154.0 406.6 154.6 406.6 155.2 406.6 155.8 406.7 156.4 406.9 157.0 407.1 157.6 407.2 158.2 407.0 158.8 406.7 159.4 406.6 160.0 406.6 160.6 406.8 161.2 406.8 161.8 406.9 162.4 406.9 163.0 406.9 163.6 406.7 164.2 406.7 164.8 407.1 165.4 407.1 166.0 407.0 166.6 407.0 167.2 406.9 167.8 406.7 168.4 406.7 169.0 406.9 169.6 407.1 170.2 407.2 170.8 407.2 171.4 407.1 172.0 407.1 172.6 407.2 173.2 407.0 173.8 407.0 174.4 407.1 175.0 407.2 175.6 407.2" stroke="#0a0aff" stroke-width="1.1" fill="none"/>
<path d="M25.0 460.6 25.6 460.5 26.2 460.7 26.8 460.9 27.4 461.0 28.0 460.9 28.6 460.7 29.2 460.7 29.8 461.0 30.4 461.2 31.0 460.9 31.6 460.6 32.2 460.7 32.8 461.0 33.4 460.9 34.0 460.6 34.6 460.6 35.2 460.6 35.8 460.7 36.4 460.7 37.0 460.8 37.6 460.9 38.2 460.9 38.8 460.8 39.4 461.0 40.0 460.9 40.6 460.7 41.2 460.7 41.8 460.7 42.4 460.7 43.0 460.7 43.6 460.8 44.2 460.9 44.8 460.8 45.4 460.7 46.0 460.7 46.6 460.6 47.2 460.7 47.8 460.8 48.4 460.9 49.0 461.1 49.6 461.0 50.2 460.7 50.8 460.8 51.4 460.8 52.0 460.9 52.6 460.8 53.2 460.6 53.8 460.7 54.4 460.9 55.0 460.9 55.6 460.8 56.2 460.8 56.8 460.7 57.4 460.6 58.0 460.7 58.6 461.0 59.2 461.1 59.8 461.1 60.4 461.0 61.0 460.8 61.6 460.7 62.2 460.4 62.8 460.4 63.4 460.5 64.0 460.3 64.6 460.1 65.2 460.1 65.8 459.9 66.4 459.7 67.0 459.6 67.6 459.5 68.2 459.2 68.8 459.0 69.4 458.8 70.0 458.4 70.6 458.0 71.2 457.8 71.8 457.8 72.4 457.4 73.0 456.8 73.6 456.5 74.2 456.2 74.8 455.6 75.4 455.2 76.0 454.8 76.6 454.2 77.2 453.6 77.8 453.1 78.4 452.5 79.0 451.9 79.6 451.3 80.2 450.3 80.8 449.3 81.4 448.4 82.0 447.8 82.6 447.0 83.2 446.1 83.8 445.1 84.4 444.0 85.0 443.0 85.6 442.0 86.2 440.9 86.8 439.8 87.4 438.8 88.0 437.9 88.6 436.5 89.2 435.1 89.8 434.1 90.4 432.8 91.0 431.4 91.6 430.3 92.2 429.0 92.8 427.6 93.4 426.3 94.0 425.2 94.6 424.2 95.2 423.1 95.8 421.9 96.4 420.9 97.0 419.9 97.6 418.7 98.2 417.6 98.8 416.7 99.4 415.6 100.0 414.9 100.6 414.3 101.2 413.7 101.8 413.0 102.4 412.5 103.0 412.2 103.6 411.8 104.2 411.5 104.8 411.3 105.4 411.2 106.0 411.3 106.6 411.2 107.2 411.2 107.8 411.3 108.4 411.5 109.0 412.1 109.6 412.8 110.2 413.6 110.8 414.4 111.4 415.0 112.0 415.9 112.6 417.2 113.2 418.3 113.8 419.3 114.4 420.6 115.0 421.7 115.6 422.8 116.2 424.2 116.8 425.8 117.4 427.4 118.0 428.7 118.6 430.0 119.2 431.5 119.8 432.9 120.4 434.3 121.0 435.9 121.6 437.5 122.2 438.8 122.8 439.8 123.4 441.1 124.0 442.5 124.6 443.7 125.2 444.8 125.8 446.0 126.4 447.5 127.0 448.5 127.6 449.3 128.2 450.5 128.8 451.3 129.4 451.7 130.0 452.6 130.6 453.5 131.2 454.4 131.8 455.0 132.4 455.5 133.0 456.3 133.6 457.1 134.2 457.6 134.8 457.6 135.4 458.0 136.0 458.7 136.6 458.7 137.2 458.9 137.8 459.3 138.4 459.7 139.0 460.1 139.6 460.1 140.2 460.2 140.8 460.4 141.4 460.8 142.0 461.0 142.6 460.9 143.2 460.7 143.8 460.9 144.4 461.2 145.0 461.1 145.6 460.9 146.2 461.1 146.8 461.4 147.4 461.5 148.0 461.5 148.6 461.6 149.2 461.7 149.8 461.5 150.4 461.6 151.0 462.0 151.6 462.1 152.2 461.9 152.8 461.9 153.4 461.9 154.0 461.8 154.6 461.6 155.2 461.6 155.8 461.7 156.4 461.9 157.0 462.1 157.6 462.0 158.2 462.0 158.8 462.0 159.4 461.9 160.0 461.8 160.6 461.6 161.2 461.7 161.8 461.7 162.4 461.4 163.0 461.5 163.6 461.9 164.2 461.8 164.8 461.6 165.4 461.6 166.0 461.8 166.6 461.9 167.2 461.9 167.8 461.8 168.4 461.7 169.0 461.9 169.6 462.1 170.2 462.1 170.8 462.0 171.4 461.8 172.0 461.6 172.6 461.7 173.2 461.9 173.8 461.9 174.4 461.6 175.0 461.6 175.6 461.8" stroke="#ff1010" stroke-width="1.1" fill="none"/>
<path d="M25.0 493.7 25.6 493.6 26.2 493.3 26.8 493.4 27.4 493.7 28.0 493.8 28.6 493.8 29.2 493.8 29.8 493.7 30.4 493.6 31.0 493.5 31.6 493.3 32.2 493.4 32.8 493.5 33.4 493.5 34.0 493.7 34.6 493.9 35.2 493.8 35.8 493.7 36.4 493.6 37.0 493.4 37.6 493.4 38.2 493.5 38.8 493.5 39.4 493.2 40.0 493.2 40.6 493.4 41.2 493.5 41.8 493.6 42.4 493.6 43.0 493.6 43.6 493.6 44.2 493.6 44.8 493.6 45.4 493.6 46.0 493.5 46.6 493.4 47.2 493.4 47.8 493.5 48.4 493.4 49.0 493.4 49.6 493.6 50.2 493.5 50.8 493.4 51.4 493.5 52.0 493.6 52.6 493.5 53.2 493.4 53.8 493.3 54.4 493.1 55.0 493.3 55.6 493.4 56.2 493.2 56.8 493.0 57.4 492.8 58.0 492.8 58.6 492.9 59.2 493.0 59.8 492.9 60.4 492.9 61.0 492.9 61.6 492.8 62.2 492.8 62.8 492.7 63.4 492.5 64.0 492.3 64.6 492.2 65.2 492.2 65.8 492.2 66.4 491.9 67.0 491.8 67.6 491.7 68.2 491.7 68.8 491.5 69.4 491.4 70.0 491.3 70.6 491.1 71.2 490.9 71.8 490.9 72.4 490.8 73.0 490.4 73.6 490.3 74.2 490.3 74.8 489.9 75.4 489.7 76.0 489.6 76.6 489.5 77.2 489.3 77.8 489.0 78.4 488.8 79.0 488.8 79.6 488.5 80.2 488.2 80.8 488.0 81.4 487.6 82.0 487.2 82.6 487.1 83.2 487.0 83.8 486.8 84.4 486.7 85.0 486.5 85.6 486.2 86.2 486.0 86.8 485.8 87.4 485.2 88.0 484.9 88.6 484.8 89.2 484.5 89.8 484.2 90.4 484.2 91.0 484.0 91.6 483.9 92.2 484.0 92.8 484.1 93.4 483.9 94.0 483.6 94.6 483.4 95.2 483.2 95.8 483.2 96.4 483.1 97.0 483.1 97.6 483.1 98.2 483.2 98.8 483.2 99.4 483.1 100.0 482.7 100.6 482.7 101.2 482.9 101.8 483.0 102.4 483.1 103.0 483.2 103.6 483.4 104.2 483.5 104.8 483.6 105.4 483.7 106.0 483.8 106.6 484.1 107.2 484.3 107.8 484.5 108.4 484.7 109.0 484.9 109.6 485.1 110.2 485.2 110.8 485.4 111.4 485.5 112.0 485.8 112.6 486.1 113.2 486.3 113.8 486.7 114.4 487.1 115.0 487.2 115.6 487.5 116.2 488.0 116.8 488.1 117.4 488.3 118.0 488.6 118.6 488.7 119.2 488.7 119.8 488.9 120.4 489.4 121.0 489.6 121.6 489.7 122.2 490.0 122.8 490.3 123.4 490.6 124.0 490.7 124.6 490.8 125.2 491.0 125.8 491.3 126.4 491.8 127.0 492.1 127.6 492.0 128.2 492.0 128.8 492.1 129.4 492.2 130.0 492.4 130.6 492.5 131.2 492.5 131.8 492.5 132.4 492.7 133.0 492.9 133.6 493.0 134.2 493.2 134.8 493.2 135.4 493.2 136.0 493.3 136.6 493.2 137.2 493.4 137.8 493.6 138.4 493.4 139.0 493.4 139.6 493.6 140.2 493.7 140.8 493.7 141.4 493.6 142.0 493.7 142.6 493.6 143.2 493.4 143.8 493.5 144.4 493.5 145.0 493.5 145.6 493.6 146.2 493.7 146.8 493.6 147.4 493.5 148.0 493.4 148.6 493.6 149.2 493.9 149.8 494.1 150.4 494.1 151.0 494.1 151.6 494.0 152.2 493.8 152.8 493.6 153.4 493.7 154.0 493.7 154.6 493.6 155.2 493.7 155.8 493.9 156.4 493.8 157.0 493.6 157.6 493.8 158.2 493.7 158.8 493.6 159.4 493.6 160.0 493.5 160.6 493.4 161.2 493.5 161.8 493.8 162.4 493.9 163.0 493.8 163.6 493.6 164.2 493.6 164.8 493.8 165.4 493.8 166.0 493.7 166.6 493.7 167.2 493.9 167.8 493.8 168.4 493.7 169.0 493.6 169.6 493.8 170.2 494.0 170.8 494.0 171.4 493.7 172.0 493.7 172.6 494.0 173.2 494.2 173.8 494.1 174.4 493.9 175.0 493.5 175.6 493.5" stroke="#22a522" stroke-width="1.1" fill="none"/>
<rect x="23.3" y="287.0" width="153.79999999999998" height="210.8" fill="none" stroke="#3c3c3c" stroke-width="1.3"/>
<path d="M22.7 497.8H177.7" stroke="#202020" stroke-width="1.2"/>
<path d="M176.20 497.80V502.80 M172.31 497.80V500.40 M168.42 497.80V500.40 M164.53 497.80V500.40 M160.64 497.80V500.40 M156.75 497.80V501.60 M152.86 497.80V500.40 M148.97 497.80V500.40 M145.08 497.80V500.40 M141.19 497.80V500.40 M137.30 497.80V502.80 M133.41 497.80V500.40 M129.52 497.80V500.40 M125.63 497.80V500.40 M121.74 497.80V500.40 M117.85 497.80V501.60 M113.96 497.80V500.40 M110.07 497.80V500.40 M106.18 497.80V500.40 M102.29 497.80V500.40 M98.40 497.80V502.80 M94.51 497.80V500.40 M90.62 497.80V500.40 M86.73 497.80V500.40 M82.84 497.80V500.40 M78.95 497.80V501.60 M75.06 497.80V500.40 M71.17 497.80V500.40 M67.28 497.80V500.40 M63.39 497.80V500.40 M59.50 497.80V502.80 M55.61 497.80V500.40 M51.72 497.80V500.40 M47.83 497.80V500.40 M43.94 497.80V500.40 M40.05 497.80V501.60 M36.16 497.80V500.40 M32.27 497.80V500.40 M28.38 497.80V500.40 M24.49 497.80V500.40" stroke="#202020" stroke-width="1.05" fill="none"/>
<text x="60.1" y="514.0" font-size="8.7" text-anchor="middle" >76</text>
<text x="99.0" y="514.0" font-size="8.7" text-anchor="middle" >74</text>
<text x="137.9" y="514.0" font-size="8.7" text-anchor="middle" >72</text>
<text x="176.8" y="514.0" font-size="8.7" text-anchor="middle" >70</text>
<text x="49.7" y="527.2" font-size="11.2" textLength="101.6" lengthAdjust="spacingAndGlyphs" >Binding energy (eV)</text>
<text x="0" y="0" font-size="11.2" text-anchor="middle" textLength="97" lengthAdjust="spacingAndGlyphs" transform="translate(12.4,391.7) rotate(-90)">XPS intensity (cps)</text>
<path d="M28.3 303.40H41.6" stroke="#0a0aff" stroke-width="1.2"/>
<text x="46.2" y="306.8" font-size="8.4" textLength="73.7" lengthAdjust="spacingAndGlyphs" >7Ce3Mn/10LaAl_cit</text>
<path d="M28.3 313.65H41.6" stroke="#ff1010" stroke-width="1.2"/>
<text x="46.2" y="317.05" font-size="8.4" textLength="72.6" lengthAdjust="spacingAndGlyphs" >7Ce3Mn/10LaAl_pp</text>
<path d="M28.3 323.90H41.6" stroke="#22a522" stroke-width="1.2"/>
<text x="46.2" y="327.3" font-size="8.4" textLength="76.7" lengthAdjust="spacingAndGlyphs" >7Ce3Mn/10LaAl_imp</text>
<text x="151.0" y="311.9" font-size="8.4" textLength="19.3" lengthAdjust="spacingAndGlyphs" >Al 2p</text>
<text x="100.6" y="545.4" font-size="10.4" style='font-family:"Liberation Serif", "Times New Roman", serif;stroke-width:0px;' text-anchor="middle" textLength="11.4" lengthAdjust="spacingAndGlyphs" >(<tspan font-weight="bold">d</tspan>)</text>
<path d="M231.0 394.7 231.4 394.8 231.9 394.3 232.3 393.7 232.8 393.9 233.2 393.4 233.7 394.1 234.1 394.9 234.6 393.4 235.0 393.2 235.5 393.9 235.9 393.7 236.4 393.4 236.8 392.5 237.3 393.0 237.7 393.5 238.2 391.8 238.6 392.3 239.1 391.1 239.5 391.4 240.0 390.8 240.4 391.8 240.9 390.9 241.3 391.9 241.8 391.7 242.2 391.3 242.7 389.3 243.1 390.7 243.6 390.9 244.0 390.9 244.5 389.5 244.9 390.2 245.4 389.7 245.8 389.7 246.3 390.9 246.7 389.4 247.2 389.8 247.6 390.4 248.1 389.1 248.5 389.3 249.0 389.3 249.4 389.1 249.9 387.9 250.3 388.7 250.8 389.4 251.2 387.0 251.7 388.6 252.1 387.8 252.6 386.9 253.0 388.7 253.5 387.5 253.9 385.7 254.4 386.4 254.8 386.5 255.3 385.6 255.7 386.0 256.2 385.1 256.6 385.3 257.1 385.6 257.5 383.7 258.0 384.0 258.4 383.1 258.9 383.2 259.3 381.9 259.8 381.9 260.2 381.8 260.7 382.2 261.1 381.9 261.6 379.6 262.0 379.5 262.5 380.1 262.9 377.6 263.4 378.2 263.8 377.8 264.3 378.2 264.7 377.1 265.2 375.5 265.6 374.6 266.1 373.7 266.5 374.0 267.0 371.4 267.4 370.3 267.9 369.6 268.3 368.0 268.8 366.5 269.2 364.3 269.7 363.7 270.1 362.2 270.6 362.4 271.0 361.1 271.5 359.7 271.9 359.4 272.4 358.1 272.8 358.7 273.3 357.7 273.7 358.2 274.2 357.0 274.6 358.6 275.1 357.5 275.5 357.7 276.0 359.5 276.4 359.6 276.9 360.9 277.3 362.9 277.8 361.0 278.2 361.4 278.7 362.2 279.1 362.4 279.6 361.9 280.0 361.7 280.5 362.2 280.9 361.8 281.4 360.5 281.8 361.0 282.3 360.9 282.7 359.8 283.2 360.5 283.6 359.3 284.1 360.1 284.5 358.7 285.0 357.7 285.4 356.2 285.9 355.6 286.3 353.3 286.8 353.2 287.2 353.6 287.7 351.1 288.1 353.0 288.6 351.0 289.0 353.3 289.5 352.7 289.9 354.9 290.4 355.6 290.8 355.8 291.3 359.6 291.7 361.6 292.2 362.2 292.6 363.7 293.1 365.1 293.5 365.7 294.0 368.2 294.4 367.8 294.9 368.9 295.3 369.0 295.8 369.8 296.2 369.8 296.7 372.2 297.1 371.6 297.6 372.8 298.0 372.5 298.5 372.4 298.9 373.1 299.4 373.4 299.8 374.3 300.3 374.5 300.7 375.1 301.2 374.9 301.6 375.9 302.1 378.4 302.5 377.2 303.0 377.5 303.4 379.1 303.9 380.4 304.3 378.7 304.8 380.0 305.2 380.1 305.7 379.6 306.1 381.9 306.6 381.7 307.0 382.1 307.5 381.8 307.9 383.1 308.4 382.7 308.8 383.4 309.3 383.1 309.7 383.4 310.2 385.7 310.6 384.6 311.1 385.6 311.5 385.7 312.0 385.7 312.4 385.9 312.9 387.1 313.3 386.7 313.8 387.1 314.2 387.5 314.7 388.7 315.1 388.6 315.6 388.7 316.0 388.3 316.5 387.9 316.9 390.0 317.4 390.3 317.8 389.8 318.3 390.6 318.7 391.1 319.2 391.4 319.6 391.8 320.1 391.1 320.5 392.9 321.0 391.1 321.4 393.0 321.9 393.0 322.3 393.6 322.8 394.6 323.2 394.6 323.7 392.9 324.1 392.8 324.6 394.9 325.0 393.9 325.5 394.9 325.9 395.8 326.4 394.3 326.8 394.2 327.3 396.2 327.7 396.3 328.2 396.2 328.6 396.6 329.1 395.9 329.5 395.4 330.0 396.4 330.4 395.6 330.9 395.0 331.3 396.3 331.8 395.6 332.2 395.5 332.7 394.0 333.1 393.7 333.6 392.8 334.0 392.1 334.5 391.9 334.9 390.0 335.4 389.6 335.8 388.3 336.3 388.5 336.7 384.9 337.2 385.7 337.6 384.1 338.1 383.3 338.5 381.5 339.0 381.7 339.4 382.4 339.9 381.8 340.3 382.3 340.8 382.5 341.2 384.3 341.7 384.2 342.1 383.4 342.6 385.6 343.0 385.8 343.5 386.0 343.9 389.2 344.4 391.6 344.8 391.6 345.3 391.4 345.7 392.3 346.2 394.4 346.6 394.2 347.1 394.5 347.5 394.7 348.0 394.9 348.4 395.5 348.9 395.1 349.3 394.5 349.8 393.1 350.2 393.7 350.7 392.2 351.1 392.9 351.6 390.3 352.0 390.2 352.5 389.2 352.9 387.0 353.4 388.1 353.8 386.7 354.3 384.3 354.7 384.3 355.2 383.3 355.6 380.7 356.1 382.9 356.5 382.8 357.0 383.2 357.4 382.8 357.9 384.0 358.3 384.9 358.8 386.9 359.2 387.4 359.7 388.5 360.1 391.1 360.6 391.0 361.0 392.6 361.5 392.8 361.9 396.4 362.4 397.0 362.8 398.0 363.3 398.7 363.7 398.9 364.2 399.2 364.6 398.8 365.1 398.6 365.5 398.2 366.0 398.6 366.4 397.1 366.9 395.9 367.3 394.7 367.8 393.9 368.2 394.9 368.7 393.4 369.1 392.4 369.6 391.3 370.0 390.1 370.5 390.2 370.9 390.2 371.4 388.6 371.8 388.0 372.3 387.4 372.7 387.1 373.2 385.2 373.6 385.7 374.1 384.6 374.5 385.4 375.0 383.6 375.4 384.1 375.9 384.2 376.3 382.3 376.8 381.6 377.2 381.7 377.7 381.1 378.1 379.9 378.6 380.5 379.0 381.2 379.5 379.1 379.9 378.7 380.4 377.6 380.8 378.2 381.3 376.6 381.7 376.3 382.2 377.7 382.6 375.6 383.1 376.7" stroke="#0a0aff" stroke-width="1.1" fill="none"/>
<path d="M231.5 449.6 231.9 449.7 232.4 449.5 232.8 450.0 233.3 448.4 233.7 449.8 234.2 449.0 234.6 450.2 235.1 450.0 235.5 450.2 236.0 449.5 236.4 448.7 236.9 449.2 237.3 449.5 237.8 447.7 238.2 448.4 238.7 447.7 239.1 448.7 239.6 446.8 240.0 447.0 240.5 447.3 240.9 447.0 241.4 445.4 241.8 446.7 242.3 446.2 242.7 445.9 243.2 445.8 243.6 445.9 244.1 444.1 244.5 446.5 245.0 444.5 245.4 443.3 245.9 444.7 246.3 445.7 246.8 444.0 247.2 445.4 247.7 445.2 248.1 443.2 248.6 441.7 249.0 442.4 249.5 444.0 249.9 442.2 250.4 441.4 250.8 441.3 251.3 442.0 251.7 441.6 252.2 442.0 252.6 441.8 253.1 440.0 253.5 440.2 254.0 439.1 254.4 439.7 254.9 438.4 255.3 438.0 255.8 440.1 256.2 438.2 256.7 438.2 257.1 439.2 257.6 437.5 258.0 436.4 258.5 436.1 258.9 435.0 259.4 435.9 259.8 434.4 260.3 435.4 260.7 433.3 261.2 432.7 261.6 432.1 262.1 432.3 262.5 431.3 263.0 431.5 263.4 429.4 263.9 429.3 264.3 429.7 264.8 427.3 265.2 427.0 265.7 426.9 266.1 425.2 266.6 423.3 267.0 421.1 267.5 423.3 267.9 420.6 268.4 419.8 268.8 417.1 269.3 417.2 269.7 414.7 270.2 412.7 270.6 410.4 271.1 409.8 271.5 407.6 272.0 406.2 272.4 403.7 272.9 403.6 273.3 403.6 273.8 402.4 274.2 403.6 274.7 404.3 275.1 403.9 275.6 404.1 276.0 404.5 276.5 406.1 276.9 404.9 277.4 406.4 277.8 406.9 278.3 407.9 278.7 408.3 279.2 407.9 279.6 410.5 280.1 409.3 280.5 408.3 281.0 408.6 281.4 409.3 281.9 409.5 282.3 407.8 282.8 408.9 283.2 406.8 283.7 406.6 284.1 407.1 284.6 407.1 285.0 405.1 285.5 404.3 285.9 404.9 286.4 402.6 286.8 403.0 287.3 402.4 287.7 402.4 288.2 401.3 288.6 400.4 289.1 400.7 289.5 399.1 290.0 400.6 290.4 399.7 290.9 400.4 291.3 401.8 291.8 403.2 292.2 405.0 292.7 405.7 293.1 407.8 293.6 409.5 294.0 410.1 294.5 410.9 294.9 413.7 295.4 414.7 295.8 414.5 296.3 416.8 296.7 419.0 297.2 419.0 297.6 420.5 298.1 420.5 298.5 422.7 299.0 423.1 299.4 423.5 299.9 424.8 300.3 423.8 300.8 424.2 301.2 426.3 301.7 424.1 302.1 426.0 302.6 424.9 303.0 426.4 303.5 428.1 303.9 427.0 304.4 426.5 304.8 429.1 305.3 427.2 305.7 427.7 306.2 428.3 306.6 427.2 307.1 429.2 307.5 429.7 308.0 429.2 308.4 429.0 308.9 428.8 309.3 429.7 309.8 426.8 310.2 429.2 310.7 429.7 311.1 428.2 311.6 430.2 312.0 429.9 312.5 430.2 312.9 430.6 313.4 431.1 313.8 431.3 314.3 430.4 314.7 431.3 315.2 431.5 315.6 431.9 316.1 431.7 316.5 433.1 317.0 433.5 317.4 433.9 317.9 434.4 318.3 434.2 318.8 433.0 319.2 433.0 319.7 433.4 320.1 434.3 320.6 433.9 321.0 434.9 321.5 435.6 321.9 434.1 322.4 435.3 322.8 434.4 323.3 433.9 323.7 433.9 324.2 434.7 324.6 433.6 325.1 435.4 325.5 436.2 326.0 434.2 326.4 434.8 326.9 436.2 327.3 435.2 327.8 435.0 328.2 434.5 328.7 435.3 329.1 434.6 329.6 433.2 330.0 431.9 330.5 431.4 330.9 433.4 331.4 432.3 331.8 433.0 332.3 431.7 332.7 429.8 333.2 430.2 333.6 430.2 334.1 427.7 334.5 427.0 335.0 427.6 335.4 423.8 335.9 423.1 336.3 423.5 336.8 421.6 337.2 419.3 337.7 417.6 338.1 417.6 338.6 416.8 339.0 415.1 339.5 413.6 339.9 413.4 340.4 412.0 340.8 411.3 341.3 414.1 341.7 412.8 342.2 415.2 342.6 416.5 343.1 418.8 343.5 418.3 344.0 419.8 344.4 419.8 344.9 422.4 345.3 423.5 345.8 424.5 346.2 424.1 346.7 425.7 347.1 425.4 347.6 426.1 348.0 426.7 348.5 427.9 348.9 426.6 349.4 427.0 349.8 426.1 350.3 426.0 350.7 425.4 351.2 425.2 351.6 425.1 352.1 422.6 352.5 422.7 353.0 420.1 353.4 419.6 353.9 417.4 354.3 416.1 354.8 414.5 355.2 414.3 355.7 412.5 356.1 412.1 356.6 410.2 357.0 409.7 357.5 410.9 357.9 408.5 358.4 409.2 358.8 410.1 359.3 412.1 359.7 410.8 360.2 412.6 360.6 414.1 361.1 414.0 361.5 415.3 362.0 417.8 362.4 417.0 362.9 417.5 363.3 419.7 363.8 419.2 364.2 420.6 364.7 419.8 365.1 417.7 365.6 418.5 366.0 417.6 366.5 416.3 366.9 416.8 367.4 413.8 367.8 413.4 368.3 413.2 368.7 413.4 369.2 410.8 369.6 410.7 370.1 409.8 370.5 408.4 371.0 408.4 371.4 407.1 371.9 406.8 372.3 406.6 372.8 404.9 373.2 404.2 373.7 403.4 374.1 402.7 374.6 401.5 375.0 401.0 375.5 401.3 375.9 399.8 376.4 402.2 376.8 398.5 377.3 398.7 377.7 396.6 378.2 396.8 378.6 396.0 379.1 395.7 379.5 396.1 380.0 394.3 380.4 392.9 380.9 393.2 381.3 391.8 381.8 391.8 382.2 392.4 382.7 391.3 383.1 390.8" stroke="#ff1010" stroke-width="1.1" fill="none"/>
<path d="M231.5 494.7 231.9 495.3 232.4 493.7 232.8 495.3 233.3 495.5 233.7 494.2 234.2 494.7 234.6 494.4 235.1 493.7 235.5 493.2 236.0 492.1 236.4 494.6 236.9 493.3 237.3 495.0 237.8 493.6 238.2 493.0 238.7 492.1 239.1 493.4 239.6 491.8 240.0 493.1 240.5 491.5 240.9 491.7 241.4 490.2 241.8 492.9 242.3 490.9 242.7 490.5 243.2 491.2 243.6 489.7 244.1 490.8 244.5 489.2 245.0 490.3 245.4 488.9 245.9 488.2 246.3 488.9 246.8 488.1 247.2 489.4 247.7 488.9 248.1 489.1 248.6 488.6 249.0 488.0 249.5 488.1 249.9 488.7 250.4 487.6 250.8 486.9 251.3 486.6 251.7 486.9 252.2 486.3 252.6 488.1 253.1 485.6 253.5 485.4 254.0 485.8 254.4 486.2 254.9 485.3 255.3 484.5 255.8 484.3 256.2 484.4 256.7 485.1 257.1 483.3 257.6 483.6 258.0 482.9 258.5 483.2 258.9 482.9 259.4 481.1 259.8 483.6 260.3 481.5 260.7 480.6 261.2 479.8 261.6 479.8 262.1 479.6 262.5 479.5 263.0 478.5 263.4 478.4 263.9 476.3 264.3 476.3 264.8 475.5 265.2 475.8 265.7 475.3 266.1 473.2 266.6 473.4 267.0 473.2 267.5 472.4 267.9 469.9 268.4 470.2 268.8 469.1 269.3 467.5 269.7 468.4 270.2 465.3 270.6 465.1 271.1 464.9 271.5 464.0 272.0 463.1 272.4 463.6 272.9 463.1 273.3 462.2 273.8 461.9 274.2 460.7 274.7 459.6 275.1 462.0 275.6 459.7 276.0 462.2 276.5 460.7 276.9 461.3 277.4 461.4 277.8 462.7 278.3 462.0 278.7 464.1 279.2 463.4 279.6 463.4 280.1 463.0 280.5 463.7 281.0 463.6 281.4 465.1 281.9 464.3 282.3 462.4 282.8 464.6 283.2 461.5 283.7 464.3 284.1 461.5 284.6 462.6 285.0 463.0 285.5 462.0 285.9 460.9 286.4 462.3 286.8 459.7 287.3 459.5 287.7 461.2 288.2 459.0 288.6 459.3 289.1 459.3 289.5 458.2 290.0 458.2 290.4 457.8 290.9 457.8 291.3 458.7 291.8 458.9 292.2 459.0 292.7 460.1 293.1 459.6 293.6 460.1 294.0 460.7 294.5 462.8 294.9 464.3 295.4 464.0 295.8 463.3 296.3 465.3 296.7 467.0 297.2 467.9 297.6 468.7 298.1 470.2 298.5 471.0 299.0 470.1 299.4 472.1 299.9 471.9 300.3 473.3 300.8 474.6 301.2 475.6 301.7 475.1 302.1 474.6 302.6 475.0 303.0 476.0 303.5 475.1 303.9 476.0 304.4 476.7 304.8 477.1 305.3 476.4 305.7 477.0 306.2 477.9 306.6 477.3 307.1 475.9 307.5 477.5 308.0 477.6 308.4 477.2 308.9 477.6 309.3 476.6 309.8 478.7 310.2 478.2 310.7 477.6 311.1 478.2 311.6 478.3 312.0 477.6 312.5 476.3 312.9 476.3 313.4 480.0 313.8 477.7 314.3 478.4 314.7 479.2 315.2 478.5 315.6 479.8 316.1 478.2 316.5 479.4 317.0 477.5 317.4 479.7 317.9 479.8 318.3 479.6 318.8 479.6 319.2 479.7 319.7 480.2 320.1 480.3 320.6 479.0 321.0 480.6 321.5 479.1 321.9 480.0 322.4 479.8 322.8 480.4 323.3 479.9 323.7 480.5 324.2 479.9 324.6 479.6 325.1 481.2 325.5 481.0 326.0 481.0 326.4 481.4 326.9 480.0 327.3 481.5 327.8 480.0 328.2 481.1 328.7 480.6 329.1 480.8 329.6 481.0 330.0 480.4 330.5 479.5 330.9 480.7 331.4 480.6 331.8 480.0 332.3 480.0 332.7 477.5 333.2 478.5 333.6 477.9 334.1 476.1 334.5 477.1 335.0 476.6 335.4 474.9 335.9 475.0 336.3 475.2 336.8 475.2 337.2 474.8 337.7 472.9 338.1 472.4 338.6 472.4 339.0 472.5 339.5 472.0 339.9 472.3 340.4 473.3 340.8 473.7 341.3 473.8 341.7 473.5 342.2 474.7 342.6 476.2 343.1 477.2 343.5 478.2 344.0 477.5 344.4 478.9 344.9 479.3 345.3 479.0 345.8 481.2 346.2 481.4 346.7 484.5 347.1 484.5 347.6 484.3 348.0 485.4 348.5 486.2 348.9 487.5 349.4 487.0 349.8 487.6 350.3 486.8 350.7 487.1 351.2 486.9 351.6 486.1 352.1 484.9 352.5 485.2 353.0 483.6 353.4 484.4 353.9 482.6 354.3 481.7 354.8 482.9 355.2 480.5 355.7 480.3 356.1 478.6 356.6 478.3 357.0 477.9 357.5 476.8 357.9 477.9 358.4 475.9 358.8 474.9 359.3 476.3 359.7 475.7 360.2 473.3 360.6 474.6 361.1 476.1 361.5 475.1 362.0 476.0 362.4 476.5 362.9 475.4 363.3 476.9 363.8 478.8 364.2 479.9 364.7 479.3 365.1 479.7 365.6 480.5 366.0 480.3 366.5 480.5 366.9 479.2 367.4 479.4 367.8 479.3 368.3 478.7 368.7 476.4 369.2 477.5 369.6 476.1 370.1 475.2 370.5 472.7 371.0 473.0 371.4 470.6 371.9 468.8 372.3 469.7 372.8 468.5 373.2 467.4 373.7 466.4 374.1 465.1 374.6 464.8 375.0 463.5 375.5 463.0 375.9 462.5 376.4 460.1 376.8 459.0 377.3 458.6 377.7 455.4 378.2 454.7 378.6 454.0 379.1 451.5 379.5 452.3 380.0 451.6 380.4 448.4 380.9 447.7 381.3 447.9 381.8 447.2 382.2 444.0 382.7 444.7 383.1 443.2 383.6 441.0" stroke="#22a522" stroke-width="1.1" fill="none"/>
<path d="M340.9 396.5V449.5M357.6 399.3V449.5" stroke="#4a4a4a" stroke-width="1.6" fill="none"/>
<path d="M342.4 436L349.2 433.6L355.9 436L349.2 438.4Z" fill="#111"/><path d="M341.5 436H357" stroke="#111" stroke-width="0.8"/>
<text x="335.6" y="458.9" font-size="8.6" textLength="30.2" lengthAdjust="spacingAndGlyphs" >~4.6 eV</text>
<rect x="229.2" y="287.0" width="155.7" height="210.39999999999998" fill="none" stroke="#3c3c3c" stroke-width="1.3"/>
<path d="M228.6 497.4H385.5" stroke="#202020" stroke-width="1.2"/>
<path d="M382.74 497.40V500.30 M378.69 497.40V500.30 M374.65 497.40V502.80 M370.61 497.40V500.30 M366.56 497.40V500.30 M362.51 497.40V500.30 M358.47 497.40V500.30 M354.43 497.40V501.30 M350.38 497.40V500.30 M346.34 497.40V500.30 M342.29 497.40V500.30 M338.25 497.40V500.30 M334.20 497.40V502.80 M330.16 497.40V500.30 M326.11 497.40V500.30 M322.06 497.40V500.30 M318.02 497.40V500.30 M313.98 497.40V501.30 M309.93 497.40V500.30 M305.88 497.40V500.30 M301.84 497.40V500.30 M297.80 497.40V500.30 M293.75 497.40V502.80 M289.71 497.40V500.30 M285.66 497.40V500.30 M281.62 497.40V500.30 M277.57 497.40V500.30 M273.53 497.40V501.30 M269.48 497.40V500.30 M265.44 497.40V500.30 M261.39 497.40V500.30 M257.35 497.40V500.30 M253.30 497.40V502.80 M249.26 497.40V500.30 M245.21 497.40V500.30 M241.17 497.40V500.30 M237.12 497.40V500.30 M233.08 497.40V501.30 M229.03 497.40V500.30" stroke="#202020" stroke-width="1.05" fill="none"/>
<text x="253.3" y="513.6" font-size="8.7" text-anchor="middle" >860</text>
<text x="293.75" y="513.6" font-size="8.7" text-anchor="middle" >850</text>
<text x="334.2" y="513.6" font-size="8.7" text-anchor="middle" >840</text>
<text x="374.65" y="513.6" font-size="8.7" text-anchor="middle" >830</text>
<text x="256.3" y="527.0" font-size="11.2" textLength="102.5" lengthAdjust="spacingAndGlyphs" >Binding energy (eV)</text>
<text x="0" y="0" font-size="11.2" text-anchor="middle" textLength="97.5" lengthAdjust="spacingAndGlyphs" transform="translate(225.0,391.5) rotate(-90)">XPS intensity (cps)</text>
<path d="M233.2 298.10H245.8" stroke="#0a0aff" stroke-width="1.2"/>
<text x="250.6" y="301.4" font-size="8.4" textLength="74.4" lengthAdjust="spacingAndGlyphs" >7Ce3Mn/10LaAl_cit</text>
<path d="M233.2 309.55H245.8" stroke="#ff1010" stroke-width="1.2"/>
<text x="250.6" y="312.85" font-size="8.4" textLength="74.4" lengthAdjust="spacingAndGlyphs" >7Ce3Mn/10LaAl_pp</text>
<path d="M232.4 321.00H245.0" stroke="#22a522" stroke-width="1.2"/>
<text x="249.8" y="324.3" font-size="8.4" textLength="78.0" lengthAdjust="spacingAndGlyphs" >7Ce3Mn/10LaAl_imp</text>
<text x="361.2" y="304.9" font-size="8.4" textLength="21.3" lengthAdjust="spacingAndGlyphs" >La 3d</text>
<text x="309.4" y="545.4" font-size="10.4" style='font-family:"Liberation Serif", "Times New Roman", serif;stroke-width:0px;' text-anchor="middle" textLength="11.4" lengthAdjust="spacingAndGlyphs" >(<tspan font-weight="bold">e</tspan>)</text>
</svg>
</body></html>
